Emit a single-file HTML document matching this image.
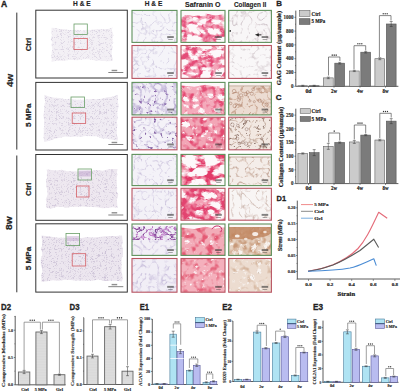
<!DOCTYPE html><html><head><meta charset="utf-8"><style>html,body{margin:0;padding:0;background:#fff;width:400px;height:392px;overflow:hidden}svg{display:block}</style></head><body>
<svg width="400" height="392" viewBox="0 0 400 392">
<rect x="0" y="0" width="400" height="392" fill="#fff"/>
<text x="0.9" y="6.6" style="font-family:'Liberation Sans',sans-serif;font-weight:bold;font-size:8.4px" text-anchor="start" fill="#222" stroke="#222" stroke-width="0.3" textLength="6.2" lengthAdjust="spacingAndGlyphs">A</text>
<text x="73.1" y="6.2" style="font-family:'Liberation Sans',sans-serif;font-weight:bold;font-size:6.4px" text-anchor="start" fill="#222" stroke="#222" stroke-width="0.12" textLength="17.5" lengthAdjust="spacingAndGlyphs">H &amp; E</text>
<text x="144.8" y="6.3" style="font-family:'Liberation Sans',sans-serif;font-weight:bold;font-size:6.4px" text-anchor="start" fill="#222" stroke="#222" stroke-width="0.12" textLength="17.5" lengthAdjust="spacingAndGlyphs">H &amp; E</text>
<text x="185.0" y="6.6" style="font-family:'Liberation Sans',sans-serif;font-weight:bold;font-size:7.0px" text-anchor="start" fill="#222" stroke="#222" stroke-width="0.12" textLength="35.6" lengthAdjust="spacingAndGlyphs">Safranin  O</text>
<text x="234.0" y="6.6" style="font-family:'Liberation Sans',sans-serif;font-weight:bold;font-size:7.0px" text-anchor="start" fill="#222" stroke="#222" stroke-width="0.12" textLength="32.2" lengthAdjust="spacingAndGlyphs">Collagen II</text>
<line x1="16.80" y1="12.60" x2="16.80" y2="149.60" stroke="#333" stroke-width="1.0"/>
<line x1="16.80" y1="155.50" x2="16.80" y2="292.30" stroke="#333" stroke-width="1.0"/>
<text x="0" y="0" style="font-family:'Liberation Sans',sans-serif;font-weight:bold;font-size:9.0px" text-anchor="middle" fill="#222" stroke="#222" stroke-width="0.22" transform="translate(12.75 80.4) rotate(-90)" textLength="13.2" lengthAdjust="spacingAndGlyphs">4w</text>
<text x="0" y="0" style="font-family:'Liberation Sans',sans-serif;font-weight:bold;font-size:9.0px" text-anchor="middle" fill="#222" stroke="#222" stroke-width="0.22" transform="translate(12.3 223.2) rotate(-90)" textLength="13.6" lengthAdjust="spacingAndGlyphs">8w</text>
<text x="0" y="0" style="font-family:'Liberation Sans',sans-serif;font-weight:bold;font-size:7.1px" text-anchor="middle" fill="#222" stroke="#222" stroke-width="0.22" transform="translate(31.4 44.6) rotate(-90)" textLength="13.3" lengthAdjust="spacingAndGlyphs">Ctrl</text>
<text x="0" y="0" style="font-family:'Liberation Sans',sans-serif;font-weight:bold;font-size:7.1px" text-anchor="middle" fill="#222" stroke="#222" stroke-width="0.22" transform="translate(31.2 115.3) rotate(-90)" textLength="23.4" lengthAdjust="spacingAndGlyphs">5 MPa</text>
<text x="0" y="0" style="font-family:'Liberation Sans',sans-serif;font-weight:bold;font-size:7.1px" text-anchor="middle" fill="#222" stroke="#222" stroke-width="0.22" transform="translate(31.4 189.3) rotate(-90)" textLength="13.3" lengthAdjust="spacingAndGlyphs">Ctrl</text>
<text x="0" y="0" style="font-family:'Liberation Sans',sans-serif;font-weight:bold;font-size:7.1px" text-anchor="middle" fill="#222" stroke="#222" stroke-width="0.22" transform="translate(31.2 258.5) rotate(-90)" textLength="23.4" lengthAdjust="spacingAndGlyphs">5 MPa</text>
<rect x="35.8" y="10.2" width="91.5" height="67.8" fill="#fff" stroke="#333" stroke-width="1.0"/>
<clipPath id="c1"><path d="M51.5 27.7 L55.9 28.0 L60.2 29.3 L64.6 28.9 L68.9 30.0 L73.3 30.0 L77.6 29.7 L82.0 30.5 L86.4 29.7 L90.7 30.1 L95.1 29.3 L99.4 28.9 L103.8 29.0 L108.1 29.1 L112.5 27.4 L111.9 30.4 L112.8 32.8 L113.4 35.2 L112.7 37.6 L112.3 40.0 L113.5 42.4 L111.6 44.8 L113.2 47.1 L112.1 49.5 L111.8 51.9 L111.7 54.3 L112.1 56.7 L113.1 59.1 L112.5 61.0 L108.1 61.3 L103.8 61.1 L99.4 60.4 L95.1 60.4 L90.7 59.4 L86.4 59.3 L82.0 59.5 L77.6 60.3 L73.3 60.0 L68.9 60.0 L64.6 60.7 L60.2 60.8 L55.9 60.8 L51.5 62.0 L51.9 59.1 L51.0 56.7 L51.6 54.3 L51.6 51.9 L52.3 49.5 L52.0 47.1 L51.1 44.8 L52.5 42.4 L50.7 40.0 L51.3 37.6 L52.0 35.2 L50.8 32.8 L51.5 30.4Z"/></clipPath>
<g clip-path="url(#c1)">
<rect x="49.5" y="26.0" width="65.0" height="37.5" fill="#f3f0f5"/>
<filter id="f1" x="49.5" y="26.0" width="65.0" height="37.5" filterUnits="userSpaceOnUse" color-interpolation-filters="sRGB"><feTurbulence type="turbulence" baseFrequency="0.42" numOctaves="2" seed="1" result="n1"/><feColorMatrix in="n1" type="matrix" values="0 0 0 0 0  0 0 0 0 0  0 0 0 0 0  -7 0 0 0 1.2" result="mask"/><feTurbulence type="fractalNoise" baseFrequency="0.1" numOctaves="2" seed="8" result="n2"/><feComponentTransfer in="n2" result="sv"><feFuncR type="linear" slope="3" intercept="-1"/><feFuncA type="linear" slope="0" intercept="1"/></feComponentTransfer><feColorMatrix in="sv" type="matrix" values="-0.094 0 0 0 0.690 -0.102 0 0 0 0.635 -0.063 0 0 0 0.753 0 0 0 0 0.3" result="col"/><feComposite in="col" in2="mask" operator="in"/></filter>
<rect x="49.5" y="26.0" width="65.0" height="37.5" fill="#000" filter="url(#f1)"/>
</g>
<rect x="74" y="24" width="13.299999999999997" height="10.399999999999999" fill="none" stroke="#6a9e68" stroke-width="0.8"/>
<rect x="74" y="38.4" width="13.299999999999997" height="11.100000000000001" fill="none" stroke="#d45f66" stroke-width="0.8"/>
<rect x="111.6" y="69.8" width="5.6" height="1.4" fill="#444" opacity="0.6"/>
<rect x="108.3" y="72.4" width="15" height="0.6" fill="#333"/>
<rect x="35.8" y="82.4" width="91.5" height="67.6" fill="#fff" stroke="#333" stroke-width="1.0"/>
<clipPath id="c2"><path d="M44.3 94.8 L49.5 96.7 L54.8 97.7 L60.0 98.1 L65.2 99.2 L70.5 98.8 L75.7 99.7 L80.9 99.7 L86.2 99.5 L91.4 99.0 L96.7 99.2 L101.9 98.7 L107.1 97.2 L112.4 96.7 L117.6 94.8 L118.0 98.8 L117.9 102.0 L118.6 105.3 L118.2 108.6 L117.2 111.9 L117.4 115.1 L117.9 118.4 L116.6 121.7 L117.5 124.9 L116.9 128.2 L116.8 131.5 L116.7 134.8 L118.1 138.0 L117.6 140.7 L112.4 139.7 L107.1 138.7 L101.9 138.5 L96.7 136.3 L91.4 136.3 L86.2 136.0 L80.9 136.4 L75.7 136.4 L70.5 136.9 L65.2 136.6 L60.0 137.7 L54.8 138.7 L49.5 140.7 L44.3 142.0 L43.6 138.0 L43.7 134.8 L43.8 131.5 L43.8 128.2 L44.3 124.9 L44.5 121.7 L43.8 118.4 L43.3 115.1 L44.1 111.9 L44.0 108.6 L44.4 105.3 L45.2 102.0 L44.7 98.8Z"/></clipPath>
<g clip-path="url(#c2)">
<rect x="42.3" y="93.5" width="77.3" height="49.80000000000001" fill="#f0ecf3"/>
<filter id="f2" x="42.3" y="93.5" width="77.3" height="49.80000000000001" filterUnits="userSpaceOnUse" color-interpolation-filters="sRGB"><feTurbulence type="turbulence" baseFrequency="0.42" numOctaves="2" seed="2" result="n1"/><feColorMatrix in="n1" type="matrix" values="0 0 0 0 0  0 0 0 0 0  0 0 0 0 0  -7 0 0 0 1.2" result="mask"/><feTurbulence type="fractalNoise" baseFrequency="0.1" numOctaves="2" seed="9" result="n2"/><feComponentTransfer in="n2" result="sv"><feFuncR type="linear" slope="3" intercept="-1"/><feFuncA type="linear" slope="0" intercept="1"/></feComponentTransfer><feColorMatrix in="sv" type="matrix" values="-0.094 0 0 0 0.690 -0.102 0 0 0 0.635 -0.063 0 0 0 0.753 0 0 0 0 0.35" result="col"/><feComposite in="col" in2="mask" operator="in"/></filter>
<rect x="42.3" y="93.5" width="77.3" height="49.80000000000001" fill="#000" filter="url(#f2)"/>
</g>
<rect x="71" y="97" width="13.5" height="10.599999999999994" fill="none" stroke="#6a9e68" stroke-width="0.8"/>
<rect x="72.2" y="113" width="13.5" height="10.400000000000006" fill="none" stroke="#d45f66" stroke-width="0.8"/>
<rect x="111.6" y="141.8" width="5.6" height="1.4" fill="#444" opacity="0.6"/>
<rect x="108.3" y="144.4" width="15" height="0.6" fill="#333"/>
<rect x="35.8" y="154.5" width="91.5" height="65.80000000000001" fill="#fff" stroke="#333" stroke-width="1.0"/>
<clipPath id="c3"><path d="M46.6 169.5 L51.7 170.0 L56.7 170.4 L61.8 169.7 L66.9 171.3 L72.0 171.3 L77.0 171.6 L82.1 171.5 L87.2 170.8 L92.2 170.7 L97.3 170.0 L102.4 170.7 L107.5 169.5 L112.5 169.1 L117.6 169.0 L116.9 172.2 L117.3 175.0 L116.7 177.8 L116.6 180.5 L116.9 183.2 L116.8 186.0 L117.3 188.8 L116.7 191.5 L118.3 194.2 L117.8 197.0 L116.9 199.8 L117.1 202.5 L117.3 205.2 L117.6 207.8 L112.5 207.2 L107.5 208.1 L102.4 208.2 L97.3 207.2 L92.2 207.1 L87.2 206.4 L82.1 206.4 L77.0 206.8 L72.0 206.7 L66.9 207.7 L61.8 206.8 L56.7 206.8 L51.7 208.5 L46.6 208.0 L45.9 205.2 L46.7 202.5 L45.7 199.8 L46.7 197.0 L47.6 194.2 L47.3 191.5 L47.0 188.8 L46.1 186.0 L46.3 183.2 L45.9 180.5 L47.1 177.8 L46.7 175.0 L47.2 172.2Z"/></clipPath>
<g clip-path="url(#c3)">
<rect x="44.6" y="167.5" width="75.0" height="42.5" fill="#eee8f0"/>
<filter id="f3" x="44.6" y="167.5" width="75.0" height="42.5" filterUnits="userSpaceOnUse" color-interpolation-filters="sRGB"><feTurbulence type="turbulence" baseFrequency="0.42" numOctaves="2" seed="3" result="n1"/><feColorMatrix in="n1" type="matrix" values="0 0 0 0 0  0 0 0 0 0  0 0 0 0 0  -7 0 0 0 1.2" result="mask"/><feTurbulence type="fractalNoise" baseFrequency="0.1" numOctaves="2" seed="10" result="n2"/><feComponentTransfer in="n2" result="sv"><feFuncR type="linear" slope="3" intercept="-1"/><feFuncA type="linear" slope="0" intercept="1"/></feComponentTransfer><feColorMatrix in="sv" type="matrix" values="-0.094 0 0 0 0.690 -0.102 0 0 0 0.635 -0.063 0 0 0 0.753 0 0 0 0 0.35" result="col"/><feComposite in="col" in2="mask" operator="in"/></filter>
<rect x="44.6" y="167.5" width="75.0" height="42.5" fill="#000" filter="url(#f3)"/>
</g>
<rect x="78.5" y="170.5" width="12.5" height="6" fill="#b898c8" opacity="0.45"/>
<rect x="78" y="169" width="13.5" height="11" fill="none" stroke="#6a9e68" stroke-width="0.8"/>
<rect x="76.4" y="186" width="12.599999999999994" height="11" fill="none" stroke="#d45f66" stroke-width="0.8"/>
<rect x="111.6" y="212.10000000000002" width="5.6" height="1.4" fill="#444" opacity="0.6"/>
<rect x="108.3" y="214.70000000000002" width="15" height="0.6" fill="#333"/>
<rect x="35.8" y="223.8" width="91.5" height="68.30000000000001" fill="#fff" stroke="#333" stroke-width="1.0"/>
<clipPath id="c4"><path d="M41.5 235.7 L47.2 235.9 L53.0 237.1 L58.8 237.7 L64.5 237.7 L70.2 237.8 L76.0 238.0 L81.8 237.9 L87.5 237.0 L93.2 237.4 L99.0 236.9 L104.8 236.2 L110.5 235.9 L116.2 236.0 L122.0 235.6 L122.4 239.2 L122.9 242.4 L121.9 245.6 L122.9 248.9 L123.0 252.1 L122.9 255.3 L121.7 258.5 L121.4 261.7 L121.5 264.9 L121.4 268.1 L121.4 271.4 L122.2 274.6 L122.8 277.8 L122.0 281.5 L116.2 280.7 L110.5 280.8 L104.8 280.9 L99.0 279.6 L93.2 280.4 L87.5 280.7 L81.8 280.5 L76.0 280.4 L70.2 280.1 L64.5 279.7 L58.8 280.8 L53.0 280.3 L47.2 281.3 L41.5 281.8 L41.3 277.8 L41.3 274.6 L42.4 271.4 L41.9 268.1 L40.8 264.9 L40.8 261.7 L40.8 258.5 L42.3 255.3 L42.1 252.1 L40.8 248.9 L42.2 245.6 L42.5 242.4 L41.8 239.2Z"/></clipPath>
<g clip-path="url(#c4)">
<rect x="39.5" y="234.0" width="84.5" height="49.0" fill="#ece6ef"/>
<filter id="f4" x="39.5" y="234.0" width="84.5" height="49.0" filterUnits="userSpaceOnUse" color-interpolation-filters="sRGB"><feTurbulence type="turbulence" baseFrequency="0.42" numOctaves="2" seed="4" result="n1"/><feColorMatrix in="n1" type="matrix" values="0 0 0 0 0  0 0 0 0 0  0 0 0 0 0  -7 0 0 0 1.2" result="mask"/><feTurbulence type="fractalNoise" baseFrequency="0.1" numOctaves="2" seed="11" result="n2"/><feComponentTransfer in="n2" result="sv"><feFuncR type="linear" slope="3" intercept="-1"/><feFuncA type="linear" slope="0" intercept="1"/></feComponentTransfer><feColorMatrix in="sv" type="matrix" values="-0.094 0 0 0 0.690 -0.102 0 0 0 0.635 -0.063 0 0 0 0.753 0 0 0 0 0.4" result="col"/><feComposite in="col" in2="mask" operator="in"/></filter>
<rect x="39.5" y="234.0" width="84.5" height="49.0" fill="#000" filter="url(#f4)"/>
</g>
<rect x="66.5" y="236" width="12.6" height="5" fill="#b898c8" opacity="0.4"/>
<rect x="66" y="233.5" width="13.599999999999994" height="12.099999999999994" fill="none" stroke="#6a9e68" stroke-width="0.8"/>
<rect x="72.2" y="253.7" width="13.5" height="12.300000000000011" fill="none" stroke="#d45f66" stroke-width="0.8"/>
<rect x="111.6" y="283.90000000000003" width="5.6" height="1.4" fill="#444" opacity="0.6"/>
<rect x="108.3" y="286.5" width="15" height="0.6" fill="#333"/>
<clipPath id="c5"><rect x="132.0" y="10.4" width="45.0" height="32.0"/></clipPath>
<g clip-path="url(#c5)">
<rect x="132.0" y="10.4" width="45.0" height="32.0" fill="#f6f5f9"/>
<filter id="f5" x="132.0" y="10.4" width="45.0" height="32.0" filterUnits="userSpaceOnUse" color-interpolation-filters="sRGB"><feTurbulence type="turbulence" baseFrequency="0.13" numOctaves="2" seed="11" result="n1"/><feColorMatrix in="n1" type="matrix" values="0 0 0 0 0  0 0 0 0 0  0 0 0 0 0  -6 0 0 0 1.1" result="mask"/><feTurbulence type="fractalNoise" baseFrequency="0.15" numOctaves="2" seed="111" result="n2"/><feComponentTransfer in="n2" result="sv"><feFuncR type="linear" slope="4" intercept="-1.5"/><feFuncA type="linear" slope="0" intercept="1"/></feComponentTransfer><feColorMatrix in="sv" type="matrix" values="-0.110 0 0 0 0.847 -0.125 0 0 0 0.824 -0.078 0 0 0 0.902 0 0 0 0 0.6" result="col"/><feComposite in="col" in2="mask" operator="in"/></filter>
<rect x="132.0" y="10.4" width="45.0" height="32.0" fill="#000" filter="url(#f5)"/>
<rect x="167.2" y="36.1" width="6.6" height="1.9" fill="#333" opacity="0.6"/>
<rect x="168.2" y="39.3" width="4.6" height="0.5" fill="#333" opacity="0.8"/>
</g>
<rect x="132.0" y="10.4" width="45.0" height="32.0" fill="none" stroke="#5f905c" stroke-width="1.1"/>
<clipPath id="c6"><rect x="181.0" y="10.4" width="44.0" height="32.0"/></clipPath>
<g clip-path="url(#c6)">
<rect x="181.0" y="10.4" width="44.0" height="32.0" fill="#fdf8fa"/>
<filter id="f6" x="181.0" y="10.4" width="44.0" height="32.0" filterUnits="userSpaceOnUse" color-interpolation-filters="sRGB"><feTurbulence type="turbulence" baseFrequency="0.07 0.11" numOctaves="3" seed="31" result="n1"/><feColorMatrix in="n1" type="matrix" values="0 0 0 0 0  0 0 0 0 0  0 0 0 0 0  -5 0 0 0 1.95" result="mask"/><feTurbulence type="fractalNoise" baseFrequency="0.15" numOctaves="2" seed="41" result="n2"/><feComponentTransfer in="n2" result="sv"><feFuncR type="linear" slope="4" intercept="-1.5"/><feFuncA type="linear" slope="0" intercept="1"/></feComponentTransfer><feColorMatrix in="sv" type="matrix" values="-0.063 0 0 0 0.957 -0.353 0 0 0 0.659 -0.259 0 0 0 0.737 0 0 0 0 1.0" result="col"/><feComposite in="col" in2="mask" operator="in"/></filter>
<rect x="181.0" y="10.4" width="44.0" height="32.0" fill="#000" filter="url(#f6)"/>
<path d="M181.0 10.4 H225.0 V13.9 L215.3 15.4 L205.2 13.4 L194.2 15.9 L181.0 14.4Z" fill="#fdf8fa"/>
<rect x="215.2" y="36.1" width="6.6" height="1.9" fill="#333" opacity="0.6"/>
<rect x="216.2" y="39.3" width="4.6" height="0.5" fill="#333" opacity="0.8"/>
</g>
<rect x="181.0" y="10.4" width="44.0" height="32.0" fill="none" stroke="#5f905c" stroke-width="1.1"/>
<clipPath id="c7"><rect x="228.7" y="10.4" width="42.7" height="32.0"/></clipPath>
<g clip-path="url(#c7)">
<rect x="228.7" y="10.4" width="42.7" height="32.0" fill="#f8f6f7"/>
<filter id="f7" x="228.7" y="10.4" width="42.7" height="32.0" filterUnits="userSpaceOnUse" color-interpolation-filters="sRGB"><feTurbulence type="turbulence" baseFrequency="0.12" numOctaves="2" seed="51" result="n1"/><feColorMatrix in="n1" type="matrix" values="0 0 0 0 0  0 0 0 0 0  0 0 0 0 0  -6 0 0 0 1.1" result="mask"/><feTurbulence type="fractalNoise" baseFrequency="0.15" numOctaves="2" seed="151" result="n2"/><feComponentTransfer in="n2" result="sv"><feFuncR type="linear" slope="4" intercept="-1.5"/><feFuncA type="linear" slope="0" intercept="1"/></feComponentTransfer><feColorMatrix in="sv" type="matrix" values="-0.145 0 0 0 0.867 -0.165 0 0 0 0.824 -0.149 0 0 0 0.839 0 0 0 0 0.6" result="col"/><feComposite in="col" in2="mask" operator="in"/></filter>
<rect x="228.7" y="10.4" width="42.7" height="32.0" fill="#000" filter="url(#f7)"/>
<path d="M254.89999999999998 34.8 l4 -1.6 l0 3.2Z" fill="#222"/><rect x="258.4" y="34.4" width="3" height="0.9" fill="#222"/><circle cx="230.2" cy="30.9" r="0.9" fill="#333"/>
<rect x="261.59999999999997" y="36.1" width="6.6" height="1.9" fill="#333" opacity="0.6"/>
<rect x="262.59999999999997" y="39.3" width="4.6" height="0.5" fill="#333" opacity="0.8"/>
</g>
<rect x="228.7" y="10.4" width="42.7" height="32.0" fill="none" stroke="#5f905c" stroke-width="1.1"/>
<clipPath id="c8"><rect x="132.0" y="45.5" width="45.0" height="32.900000000000006"/></clipPath>
<g clip-path="url(#c8)">
<rect x="132.0" y="45.5" width="45.0" height="32.900000000000006" fill="#f5f4f9"/>
<filter id="f8" x="132.0" y="45.5" width="45.0" height="32.900000000000006" filterUnits="userSpaceOnUse" color-interpolation-filters="sRGB"><feTurbulence type="turbulence" baseFrequency="0.13" numOctaves="2" seed="12" result="n1"/><feColorMatrix in="n1" type="matrix" values="0 0 0 0 0  0 0 0 0 0  0 0 0 0 0  -6 0 0 0 1.1" result="mask"/><feTurbulence type="fractalNoise" baseFrequency="0.15" numOctaves="2" seed="112" result="n2"/><feComponentTransfer in="n2" result="sv"><feFuncR type="linear" slope="4" intercept="-1.5"/><feFuncA type="linear" slope="0" intercept="1"/></feComponentTransfer><feColorMatrix in="sv" type="matrix" values="-0.110 0 0 0 0.847 -0.125 0 0 0 0.824 -0.078 0 0 0 0.902 0 0 0 0 0.6" result="col"/><feComposite in="col" in2="mask" operator="in"/></filter>
<rect x="132.0" y="45.5" width="45.0" height="32.900000000000006" fill="#000" filter="url(#f8)"/>
<rect x="167.2" y="72.10000000000001" width="6.6" height="1.9" fill="#333" opacity="0.6"/>
<rect x="168.2" y="75.30000000000001" width="4.6" height="0.5" fill="#333" opacity="0.8"/>
</g>
<rect x="132.0" y="45.5" width="45.0" height="32.900000000000006" fill="none" stroke="#b85462" stroke-width="1.1"/>
<clipPath id="c9"><rect x="181.0" y="45.5" width="44.0" height="32.900000000000006"/></clipPath>
<g clip-path="url(#c9)">
<rect x="181.0" y="45.5" width="44.0" height="32.900000000000006" fill="#fdf8fa"/>
<filter id="f9" x="181.0" y="45.5" width="44.0" height="32.900000000000006" filterUnits="userSpaceOnUse" color-interpolation-filters="sRGB"><feTurbulence type="turbulence" baseFrequency="0.08 0.12" numOctaves="3" seed="32" result="n1"/><feColorMatrix in="n1" type="matrix" values="0 0 0 0 0  0 0 0 0 0  0 0 0 0 0  -5 0 0 0 2.1" result="mask"/><feTurbulence type="fractalNoise" baseFrequency="0.15" numOctaves="2" seed="42" result="n2"/><feComponentTransfer in="n2" result="sv"><feFuncR type="linear" slope="4" intercept="-1.5"/><feFuncA type="linear" slope="0" intercept="1"/></feComponentTransfer><feColorMatrix in="sv" type="matrix" values="-0.063 0 0 0 0.957 -0.353 0 0 0 0.651 -0.259 0 0 0 0.729 0 0 0 0 1.0" result="col"/><feComposite in="col" in2="mask" operator="in"/></filter>
<rect x="181.0" y="45.5" width="44.0" height="32.900000000000006" fill="#000" filter="url(#f9)"/>
<rect x="215.2" y="72.10000000000001" width="6.6" height="1.9" fill="#333" opacity="0.6"/>
<rect x="216.2" y="75.30000000000001" width="4.6" height="0.5" fill="#333" opacity="0.8"/>
</g>
<rect x="181.0" y="45.5" width="44.0" height="32.900000000000006" fill="none" stroke="#b85462" stroke-width="1.1"/>
<clipPath id="c10"><rect x="228.7" y="45.5" width="42.7" height="32.900000000000006"/></clipPath>
<g clip-path="url(#c10)">
<rect x="228.7" y="45.5" width="42.7" height="32.900000000000006" fill="#f9f7f8"/>
<filter id="f10" x="228.7" y="45.5" width="42.7" height="32.900000000000006" filterUnits="userSpaceOnUse" color-interpolation-filters="sRGB"><feTurbulence type="turbulence" baseFrequency="0.12" numOctaves="2" seed="52" result="n1"/><feColorMatrix in="n1" type="matrix" values="0 0 0 0 0  0 0 0 0 0  0 0 0 0 0  -6 0 0 0 1.1" result="mask"/><feTurbulence type="fractalNoise" baseFrequency="0.15" numOctaves="2" seed="152" result="n2"/><feComponentTransfer in="n2" result="sv"><feFuncR type="linear" slope="4" intercept="-1.5"/><feFuncA type="linear" slope="0" intercept="1"/></feComponentTransfer><feColorMatrix in="sv" type="matrix" values="-0.141 0 0 0 0.878 -0.157 0 0 0 0.839 -0.149 0 0 0 0.855 0 0 0 0 0.55" result="col"/><feComposite in="col" in2="mask" operator="in"/></filter>
<rect x="228.7" y="45.5" width="42.7" height="32.900000000000006" fill="#000" filter="url(#f10)"/>
<rect x="261.59999999999997" y="72.10000000000001" width="6.6" height="1.9" fill="#333" opacity="0.6"/>
<rect x="262.59999999999997" y="75.30000000000001" width="4.6" height="0.5" fill="#333" opacity="0.8"/>
</g>
<rect x="228.7" y="45.5" width="42.7" height="32.900000000000006" fill="none" stroke="#b85462" stroke-width="1.1"/>
<clipPath id="c11"><rect x="132.0" y="82.4" width="45.0" height="32.5"/></clipPath>
<g clip-path="url(#c11)">
<rect x="132.0" y="82.4" width="45.0" height="32.5" fill="#f1eef6"/>
<filter id="f11" x="132.0" y="82.4" width="45.0" height="32.5" filterUnits="userSpaceOnUse" color-interpolation-filters="sRGB"><feTurbulence type="fractalNoise" baseFrequency="0.28" numOctaves="2" seed="23" result="n"/><feColorMatrix in="n" type="matrix" values="0 0 0 0 0  0 0 0 0 0  0 0 0 0 0  1 0 0 0 0" result="a"/><feComponentTransfer in="a" result="t"><feFuncA type="linear" slope="9" intercept="-5.8"/></feComponentTransfer><feFlood flood-color="#74489a" flood-opacity="0.8"/><feComposite in2="t" operator="in"/></filter>
<rect x="132.0" y="82.4" width="45.0" height="32.5" fill="#000" filter="url(#f11)"/>
<filter id="f12" x="132.0" y="82.4" width="45.0" height="32.5" filterUnits="userSpaceOnUse" color-interpolation-filters="sRGB"><feTurbulence type="turbulence" baseFrequency="0.12" numOctaves="2" seed="13" result="n1"/><feColorMatrix in="n1" type="matrix" values="0 0 0 0 0  0 0 0 0 0  0 0 0 0 0  -5 0 0 0 1.5" result="mask"/><feTurbulence type="fractalNoise" baseFrequency="0.15" numOctaves="2" seed="113" result="n2"/><feComponentTransfer in="n2" result="sv"><feFuncR type="linear" slope="4" intercept="-1.5"/><feFuncA type="linear" slope="0" intercept="1"/></feComponentTransfer><feColorMatrix in="sv" type="matrix" values="-0.153 0 0 0 0.812 -0.180 0 0 0 0.776 -0.102 0 0 0 0.886 0 0 0 0 0.7" result="col"/><feComposite in="col" in2="mask" operator="in"/></filter>
<rect x="132.0" y="82.4" width="45.0" height="32.5" fill="#000" filter="url(#f12)"/>
<rect x="167.2" y="108.60000000000001" width="6.6" height="1.9" fill="#333" opacity="0.6"/>
<rect x="168.2" y="111.80000000000001" width="4.6" height="0.5" fill="#333" opacity="0.8"/>
</g>
<rect x="132.0" y="82.4" width="45.0" height="32.5" fill="none" stroke="#5f905c" stroke-width="1.1"/>
<clipPath id="c12"><rect x="181.0" y="82.4" width="44.0" height="32.5"/></clipPath>
<g clip-path="url(#c12)">
<rect x="181.0" y="82.4" width="44.0" height="32.5" fill="#fdf8fa"/>
<filter id="f13" x="181.0" y="82.4" width="44.0" height="32.5" filterUnits="userSpaceOnUse" color-interpolation-filters="sRGB"><feTurbulence type="turbulence" baseFrequency="0.11 0.14" numOctaves="3" seed="33" result="n1"/><feColorMatrix in="n1" type="matrix" values="0 0 0 0 0  0 0 0 0 0  0 0 0 0 0  -5 0 0 0 2.5" result="mask"/><feTurbulence type="fractalNoise" baseFrequency="0.15" numOctaves="2" seed="43" result="n2"/><feComponentTransfer in="n2" result="sv"><feFuncR type="linear" slope="4" intercept="-1.82"/><feFuncA type="linear" slope="0" intercept="1"/></feComponentTransfer><feColorMatrix in="sv" type="matrix" values="-0.063 0 0 0 0.957 -0.369 0 0 0 0.667 -0.278 0 0 0 0.733 0 0 0 0 1.0" result="col"/><feComposite in="col" in2="mask" operator="in"/></filter>
<rect x="181.0" y="82.4" width="44.0" height="32.5" fill="#000" filter="url(#f13)"/>
<path d="M181.0 82.4 H225.0 V85.2 L215.3 86.4 L205.2 84.8 L194.2 86.8 L181.0 85.6Z" fill="#fdf8fa"/>
<rect x="215.2" y="108.60000000000001" width="6.6" height="1.9" fill="#333" opacity="0.6"/>
<rect x="216.2" y="111.80000000000001" width="4.6" height="0.5" fill="#333" opacity="0.8"/>
</g>
<rect x="181.0" y="82.4" width="44.0" height="32.5" fill="none" stroke="#5f905c" stroke-width="1.1"/>
<clipPath id="c13"><rect x="228.7" y="82.4" width="42.7" height="32.5"/></clipPath>
<g clip-path="url(#c13)">
<rect x="228.7" y="82.4" width="42.7" height="32.5" fill="#ecdcd2"/>
<filter id="f14" x="228.7" y="82.4" width="42.7" height="32.5" filterUnits="userSpaceOnUse" color-interpolation-filters="sRGB"><feTurbulence type="turbulence" baseFrequency="0.14" numOctaves="2" seed="53" result="n1"/><feColorMatrix in="n1" type="matrix" values="0 0 0 0 0  0 0 0 0 0  0 0 0 0 0  -6 0 0 0 1.34" result="mask"/><feTurbulence type="fractalNoise" baseFrequency="0.15" numOctaves="2" seed="153" result="n2"/><feComponentTransfer in="n2" result="sv"><feFuncR type="linear" slope="4" intercept="-1.5"/><feFuncA type="linear" slope="0" intercept="1"/></feComponentTransfer><feColorMatrix in="sv" type="matrix" values="-0.157 0 0 0 0.847 -0.220 0 0 0 0.722 -0.235 0 0 0 0.643 0 0 0 0 0.7" result="col"/><feComposite in="col" in2="mask" operator="in"/></filter>
<rect x="228.7" y="82.4" width="42.7" height="32.5" fill="#000" filter="url(#f14)"/>
<circle cx="239.6" cy="98.2" r="1.29" fill="none" stroke="#a0705a" stroke-width="0.55" opacity="0.8"/><circle cx="241.1" cy="95.3" r="1.60" fill="none" stroke="#a0705a" stroke-width="0.55" opacity="0.8"/><circle cx="266.4" cy="110.6" r="1.50" fill="none" stroke="#a0705a" stroke-width="0.55" opacity="0.8"/><circle cx="245.8" cy="94.1" r="1.79" fill="none" stroke="#a0705a" stroke-width="0.55" opacity="0.8"/><circle cx="266.7" cy="104.7" r="1.71" fill="none" stroke="#a0705a" stroke-width="0.55" opacity="0.8"/><circle cx="234.7" cy="106.0" r="1.75" fill="none" stroke="#a0705a" stroke-width="0.55" opacity="0.8"/><circle cx="230.7" cy="103.4" r="1.27" fill="none" stroke="#a0705a" stroke-width="0.55" opacity="0.8"/><circle cx="253.3" cy="89.2" r="1.53" fill="none" stroke="#a0705a" stroke-width="0.55" opacity="0.8"/><circle cx="238.8" cy="99.7" r="1.65" fill="none" stroke="#a0705a" stroke-width="0.55" opacity="0.8"/><circle cx="262.5" cy="101.9" r="1.03" fill="none" stroke="#a0705a" stroke-width="0.55" opacity="0.8"/><circle cx="254.3" cy="101.7" r="1.06" fill="none" stroke="#a0705a" stroke-width="0.55" opacity="0.8"/><circle cx="251.8" cy="93.7" r="1.62" fill="none" stroke="#a0705a" stroke-width="0.55" opacity="0.8"/><circle cx="249.9" cy="100.9" r="1.13" fill="none" stroke="#a0705a" stroke-width="0.55" opacity="0.8"/><circle cx="247.7" cy="92.2" r="1.45" fill="none" stroke="#a0705a" stroke-width="0.55" opacity="0.8"/><circle cx="234.1" cy="91.1" r="1.76" fill="none" stroke="#a0705a" stroke-width="0.55" opacity="0.8"/><circle cx="259.6" cy="100.6" r="1.71" fill="none" stroke="#a0705a" stroke-width="0.55" opacity="0.8"/>
<rect x="228.7" y="82.4" width="42.7" height="3.5" fill="#f8f2ee"/><line x1="228.7" y1="85.9" x2="271.4" y2="85.9" stroke="#9a7a68" stroke-width="0.5"/>
<rect x="261.59999999999997" y="108.60000000000001" width="6.6" height="1.9" fill="#333" opacity="0.6"/>
<rect x="262.59999999999997" y="111.80000000000001" width="4.6" height="0.5" fill="#333" opacity="0.8"/>
</g>
<rect x="228.7" y="82.4" width="42.7" height="32.5" fill="none" stroke="#5f905c" stroke-width="1.1"/>
<clipPath id="c14"><rect x="132.0" y="117.2" width="45.0" height="32.60000000000001"/></clipPath>
<g clip-path="url(#c14)">
<rect x="132.0" y="117.2" width="45.0" height="32.60000000000001" fill="#f4f2f8"/>
<filter id="f15" x="132.0" y="117.2" width="45.0" height="32.60000000000001" filterUnits="userSpaceOnUse" color-interpolation-filters="sRGB"><feTurbulence type="fractalNoise" baseFrequency="0.28" numOctaves="2" seed="24" result="n"/><feColorMatrix in="n" type="matrix" values="0 0 0 0 0  0 0 0 0 0  0 0 0 0 0  1 0 0 0 0" result="a"/><feComponentTransfer in="a" result="t"><feFuncA type="linear" slope="9" intercept="-5.89"/></feComponentTransfer><feFlood flood-color="#6a4290" flood-opacity="0.8"/><feComposite in2="t" operator="in"/></filter>
<rect x="132.0" y="117.2" width="45.0" height="32.60000000000001" fill="#000" filter="url(#f15)"/>
<filter id="f16" x="132.0" y="117.2" width="45.0" height="32.60000000000001" filterUnits="userSpaceOnUse" color-interpolation-filters="sRGB"><feTurbulence type="turbulence" baseFrequency="0.12" numOctaves="2" seed="14" result="n1"/><feColorMatrix in="n1" type="matrix" values="0 0 0 0 0  0 0 0 0 0  0 0 0 0 0  -5 0 0 0 1.2" result="mask"/><feTurbulence type="fractalNoise" baseFrequency="0.15" numOctaves="2" seed="114" result="n2"/><feComponentTransfer in="n2" result="sv"><feFuncR type="linear" slope="4" intercept="-1.5"/><feFuncA type="linear" slope="0" intercept="1"/></feComponentTransfer><feColorMatrix in="sv" type="matrix" values="-0.133 0 0 0 0.824 -0.157 0 0 0 0.792 -0.094 0 0 0 0.894 0 0 0 0 0.6" result="col"/><feComposite in="col" in2="mask" operator="in"/></filter>
<rect x="132.0" y="117.2" width="45.0" height="32.60000000000001" fill="#000" filter="url(#f16)"/>
<rect x="167.2" y="143.5" width="6.6" height="1.9" fill="#333" opacity="0.6"/>
<rect x="168.2" y="146.70000000000002" width="4.6" height="0.5" fill="#333" opacity="0.8"/>
</g>
<rect x="132.0" y="117.2" width="45.0" height="32.60000000000001" fill="none" stroke="#b85462" stroke-width="1.1"/>
<clipPath id="c15"><rect x="181.0" y="117.2" width="44.0" height="32.60000000000001"/></clipPath>
<g clip-path="url(#c15)">
<rect x="181.0" y="117.2" width="44.0" height="32.60000000000001" fill="#fdf8fa"/>
<filter id="f17" x="181.0" y="117.2" width="44.0" height="32.60000000000001" filterUnits="userSpaceOnUse" color-interpolation-filters="sRGB"><feTurbulence type="turbulence" baseFrequency="0.11 0.14" numOctaves="3" seed="34" result="n1"/><feColorMatrix in="n1" type="matrix" values="0 0 0 0 0  0 0 0 0 0  0 0 0 0 0  -5 0 0 0 3.0" result="mask"/><feTurbulence type="fractalNoise" baseFrequency="0.15" numOctaves="2" seed="44" result="n2"/><feComponentTransfer in="n2" result="sv"><feFuncR type="linear" slope="4" intercept="-1.74"/><feFuncA type="linear" slope="0" intercept="1"/></feComponentTransfer><feColorMatrix in="sv" type="matrix" values="-0.055 0 0 0 0.949 -0.361 0 0 0 0.651 -0.267 0 0 0 0.714 0 0 0 0 1.0" result="col"/><feComposite in="col" in2="mask" operator="in"/></filter>
<rect x="181.0" y="117.2" width="44.0" height="32.60000000000001" fill="#000" filter="url(#f17)"/>
<rect x="215.2" y="143.5" width="6.6" height="1.9" fill="#333" opacity="0.6"/>
<rect x="216.2" y="146.70000000000002" width="4.6" height="0.5" fill="#333" opacity="0.8"/>
</g>
<rect x="181.0" y="117.2" width="44.0" height="32.60000000000001" fill="none" stroke="#b85462" stroke-width="1.1"/>
<clipPath id="c16"><rect x="228.7" y="117.2" width="42.7" height="32.60000000000001"/></clipPath>
<g clip-path="url(#c16)">
<rect x="228.7" y="117.2" width="42.7" height="32.60000000000001" fill="#f2e8e2"/>
<filter id="f18" x="228.7" y="117.2" width="42.7" height="32.60000000000001" filterUnits="userSpaceOnUse" color-interpolation-filters="sRGB"><feTurbulence type="fractalNoise" baseFrequency="0.35" numOctaves="2" seed="64" result="n"/><feColorMatrix in="n" type="matrix" values="0 0 0 0 0  0 0 0 0 0  0 0 0 0 0  1 0 0 0 0" result="a"/><feComponentTransfer in="a" result="t"><feFuncA type="linear" slope="9" intercept="-5.98"/></feComponentTransfer><feFlood flood-color="#5a3a30" flood-opacity="0.6"/><feComposite in2="t" operator="in"/></filter>
<rect x="228.7" y="117.2" width="42.7" height="32.60000000000001" fill="#000" filter="url(#f18)"/>
<filter id="f19" x="228.7" y="117.2" width="42.7" height="32.60000000000001" filterUnits="userSpaceOnUse" color-interpolation-filters="sRGB"><feTurbulence type="turbulence" baseFrequency="0.14" numOctaves="2" seed="54" result="n1"/><feColorMatrix in="n1" type="matrix" values="0 0 0 0 0  0 0 0 0 0  0 0 0 0 0  -6 0 0 0 1.22" result="mask"/><feTurbulence type="fractalNoise" baseFrequency="0.15" numOctaves="2" seed="154" result="n2"/><feComponentTransfer in="n2" result="sv"><feFuncR type="linear" slope="4" intercept="-1.5"/><feFuncA type="linear" slope="0" intercept="1"/></feComponentTransfer><feColorMatrix in="sv" type="matrix" values="-0.282 0 0 0 0.784 -0.290 0 0 0 0.667 -0.282 0 0 0 0.596 0 0 0 0 0.65" result="col"/><feComposite in="col" in2="mask" operator="in"/></filter>
<rect x="228.7" y="117.2" width="42.7" height="32.60000000000001" fill="#000" filter="url(#f19)"/>
<circle cx="232.3" cy="124.6" r="1.74" fill="none" stroke="#8a6a60" stroke-width="0.55" opacity="0.8"/><circle cx="262.8" cy="145.1" r="1.67" fill="none" stroke="#8a6a60" stroke-width="0.55" opacity="0.8"/><circle cx="246.6" cy="129.2" r="1.50" fill="none" stroke="#8a6a60" stroke-width="0.55" opacity="0.8"/><circle cx="237.3" cy="138.6" r="1.50" fill="none" stroke="#8a6a60" stroke-width="0.55" opacity="0.8"/><circle cx="261.8" cy="138.8" r="1.18" fill="none" stroke="#8a6a60" stroke-width="0.55" opacity="0.8"/><circle cx="246.0" cy="143.6" r="1.75" fill="none" stroke="#8a6a60" stroke-width="0.55" opacity="0.8"/><circle cx="239.4" cy="143.4" r="1.35" fill="none" stroke="#8a6a60" stroke-width="0.55" opacity="0.8"/><circle cx="245.5" cy="122.0" r="1.08" fill="none" stroke="#8a6a60" stroke-width="0.55" opacity="0.8"/><circle cx="242.8" cy="142.2" r="1.42" fill="none" stroke="#8a6a60" stroke-width="0.55" opacity="0.8"/><circle cx="237.9" cy="125.6" r="1.41" fill="none" stroke="#8a6a60" stroke-width="0.55" opacity="0.8"/>
<rect x="261.59999999999997" y="143.5" width="6.6" height="1.9" fill="#333" opacity="0.6"/>
<rect x="262.59999999999997" y="146.70000000000002" width="4.6" height="0.5" fill="#333" opacity="0.8"/>
</g>
<rect x="228.7" y="117.2" width="42.7" height="32.60000000000001" fill="none" stroke="#b85462" stroke-width="1.1"/>
<clipPath id="c17"><rect x="132.0" y="154.4" width="45.0" height="31.19999999999999"/></clipPath>
<g clip-path="url(#c17)">
<rect x="132.0" y="154.4" width="45.0" height="31.19999999999999" fill="#f4f2f8"/>
<filter id="f20" x="132.0" y="154.4" width="45.0" height="31.19999999999999" filterUnits="userSpaceOnUse" color-interpolation-filters="sRGB"><feTurbulence type="turbulence" baseFrequency="0.13" numOctaves="2" seed="15" result="n1"/><feColorMatrix in="n1" type="matrix" values="0 0 0 0 0  0 0 0 0 0  0 0 0 0 0  -6 0 0 0 1.1" result="mask"/><feTurbulence type="fractalNoise" baseFrequency="0.15" numOctaves="2" seed="115" result="n2"/><feComponentTransfer in="n2" result="sv"><feFuncR type="linear" slope="4" intercept="-1.5"/><feFuncA type="linear" slope="0" intercept="1"/></feComponentTransfer><feColorMatrix in="sv" type="matrix" values="-0.125 0 0 0 0.831 -0.141 0 0 0 0.800 -0.094 0 0 0 0.894 0 0 0 0 0.6" result="col"/><feComposite in="col" in2="mask" operator="in"/></filter>
<rect x="132.0" y="154.4" width="45.0" height="31.19999999999999" fill="#000" filter="url(#f20)"/>
<rect x="167.2" y="179.29999999999998" width="6.6" height="1.9" fill="#333" opacity="0.6"/>
<rect x="168.2" y="182.5" width="4.6" height="0.5" fill="#333" opacity="0.8"/>
</g>
<rect x="132.0" y="154.4" width="45.0" height="31.19999999999999" fill="none" stroke="#5f905c" stroke-width="1.1"/>
<clipPath id="c18"><rect x="181.0" y="154.4" width="44.0" height="31.19999999999999"/></clipPath>
<g clip-path="url(#c18)">
<rect x="181.0" y="154.4" width="44.0" height="31.19999999999999" fill="#fdf8fa"/>
<filter id="f21" x="181.0" y="154.4" width="44.0" height="31.19999999999999" filterUnits="userSpaceOnUse" color-interpolation-filters="sRGB"><feTurbulence type="turbulence" baseFrequency="0.055 0.09" numOctaves="3" seed="35" result="n1"/><feColorMatrix in="n1" type="matrix" values="0 0 0 0 0  0 0 0 0 0  0 0 0 0 0  -5 0 0 0 2.0" result="mask"/><feTurbulence type="fractalNoise" baseFrequency="0.15" numOctaves="2" seed="45" result="n2"/><feComponentTransfer in="n2" result="sv"><feFuncR type="linear" slope="4" intercept="-1.3"/><feFuncA type="linear" slope="0" intercept="1"/></feComponentTransfer><feColorMatrix in="sv" type="matrix" values="-0.063 0 0 0 0.949 -0.384 0 0 0 0.612 -0.282 0 0 0 0.690 0 0 0 0 1.0" result="col"/><feComposite in="col" in2="mask" operator="in"/></filter>
<rect x="181.0" y="154.4" width="44.0" height="31.19999999999999" fill="#000" filter="url(#f21)"/>
<rect x="215.2" y="179.29999999999998" width="6.6" height="1.9" fill="#333" opacity="0.6"/>
<rect x="216.2" y="182.5" width="4.6" height="0.5" fill="#333" opacity="0.8"/>
</g>
<rect x="181.0" y="154.4" width="44.0" height="31.19999999999999" fill="none" stroke="#5f905c" stroke-width="1.1"/>
<clipPath id="c19"><rect x="228.7" y="154.4" width="42.7" height="31.19999999999999"/></clipPath>
<g clip-path="url(#c19)">
<rect x="228.7" y="154.4" width="42.7" height="31.19999999999999" fill="#f4ede9"/>
<filter id="f22" x="228.7" y="154.4" width="42.7" height="31.19999999999999" filterUnits="userSpaceOnUse" color-interpolation-filters="sRGB"><feTurbulence type="turbulence" baseFrequency="0.13" numOctaves="2" seed="55" result="n1"/><feColorMatrix in="n1" type="matrix" values="0 0 0 0 0  0 0 0 0 0  0 0 0 0 0  -6 0 0 0 1.22" result="mask"/><feTurbulence type="fractalNoise" baseFrequency="0.15" numOctaves="2" seed="155" result="n2"/><feComponentTransfer in="n2" result="sv"><feFuncR type="linear" slope="4" intercept="-1.5"/><feFuncA type="linear" slope="0" intercept="1"/></feComponentTransfer><feColorMatrix in="sv" type="matrix" values="-0.157 0 0 0 0.847 -0.212 0 0 0 0.753 -0.227 0 0 0 0.698 0 0 0 0 0.65" result="col"/><feComposite in="col" in2="mask" operator="in"/></filter>
<rect x="228.7" y="154.4" width="42.7" height="31.19999999999999" fill="#000" filter="url(#f22)"/>
<rect x="228.7" y="154.4" width="42.7" height="2.5" fill="#faf7f5"/><line x1="228.7" y1="157.0" x2="271.4" y2="157.0" stroke="#a88070" stroke-width="0.6"/>
<rect x="261.59999999999997" y="179.29999999999998" width="6.6" height="1.9" fill="#333" opacity="0.6"/>
<rect x="262.59999999999997" y="182.5" width="4.6" height="0.5" fill="#333" opacity="0.8"/>
</g>
<rect x="228.7" y="154.4" width="42.7" height="31.19999999999999" fill="none" stroke="#5f905c" stroke-width="1.1"/>
<clipPath id="c20"><rect x="132.0" y="188.3" width="45.0" height="31.899999999999977"/></clipPath>
<g clip-path="url(#c20)">
<rect x="132.0" y="188.3" width="45.0" height="31.899999999999977" fill="#f3f1f7"/>
<filter id="f23" x="132.0" y="188.3" width="45.0" height="31.899999999999977" filterUnits="userSpaceOnUse" color-interpolation-filters="sRGB"><feTurbulence type="turbulence" baseFrequency="0.13" numOctaves="2" seed="16" result="n1"/><feColorMatrix in="n1" type="matrix" values="0 0 0 0 0  0 0 0 0 0  0 0 0 0 0  -6 0 0 0 1.1" result="mask"/><feTurbulence type="fractalNoise" baseFrequency="0.15" numOctaves="2" seed="116" result="n2"/><feComponentTransfer in="n2" result="sv"><feFuncR type="linear" slope="4" intercept="-1.5"/><feFuncA type="linear" slope="0" intercept="1"/></feComponentTransfer><feColorMatrix in="sv" type="matrix" values="-0.125 0 0 0 0.831 -0.141 0 0 0 0.800 -0.094 0 0 0 0.894 0 0 0 0 0.6" result="col"/><feComposite in="col" in2="mask" operator="in"/></filter>
<rect x="132.0" y="188.3" width="45.0" height="31.899999999999977" fill="#000" filter="url(#f23)"/>
<rect x="167.2" y="213.89999999999998" width="6.6" height="1.9" fill="#333" opacity="0.6"/>
<rect x="168.2" y="217.1" width="4.6" height="0.5" fill="#333" opacity="0.8"/>
</g>
<rect x="132.0" y="188.3" width="45.0" height="31.899999999999977" fill="none" stroke="#b85462" stroke-width="1.1"/>
<clipPath id="c21"><rect x="181.0" y="188.3" width="44.0" height="31.899999999999977"/></clipPath>
<g clip-path="url(#c21)">
<rect x="181.0" y="188.3" width="44.0" height="31.899999999999977" fill="#fdf8fa"/>
<filter id="f24" x="181.0" y="188.3" width="44.0" height="31.899999999999977" filterUnits="userSpaceOnUse" color-interpolation-filters="sRGB"><feTurbulence type="turbulence" baseFrequency="0.07 0.11" numOctaves="3" seed="36" result="n1"/><feColorMatrix in="n1" type="matrix" values="0 0 0 0 0  0 0 0 0 0  0 0 0 0 0  -5 0 0 0 2.25" result="mask"/><feTurbulence type="fractalNoise" baseFrequency="0.15" numOctaves="2" seed="46" result="n2"/><feComponentTransfer in="n2" result="sv"><feFuncR type="linear" slope="4" intercept="-1.3"/><feFuncA type="linear" slope="0" intercept="1"/></feComponentTransfer><feColorMatrix in="sv" type="matrix" values="-0.071 0 0 0 0.957 -0.369 0 0 0 0.635 -0.275 0 0 0 0.714 0 0 0 0 1.0" result="col"/><feComposite in="col" in2="mask" operator="in"/></filter>
<rect x="181.0" y="188.3" width="44.0" height="31.899999999999977" fill="#000" filter="url(#f24)"/>
<rect x="215.2" y="213.89999999999998" width="6.6" height="1.9" fill="#333" opacity="0.6"/>
<rect x="216.2" y="217.1" width="4.6" height="0.5" fill="#333" opacity="0.8"/>
</g>
<rect x="181.0" y="188.3" width="44.0" height="31.899999999999977" fill="none" stroke="#b85462" stroke-width="1.1"/>
<clipPath id="c22"><rect x="228.7" y="188.3" width="42.7" height="31.899999999999977"/></clipPath>
<g clip-path="url(#c22)">
<rect x="228.7" y="188.3" width="42.7" height="31.899999999999977" fill="#f8f5f4"/>
<filter id="f25" x="228.7" y="188.3" width="42.7" height="31.899999999999977" filterUnits="userSpaceOnUse" color-interpolation-filters="sRGB"><feTurbulence type="turbulence" baseFrequency="0.12" numOctaves="2" seed="56" result="n1"/><feColorMatrix in="n1" type="matrix" values="0 0 0 0 0  0 0 0 0 0  0 0 0 0 0  -6 0 0 0 1.1" result="mask"/><feTurbulence type="fractalNoise" baseFrequency="0.15" numOctaves="2" seed="156" result="n2"/><feComponentTransfer in="n2" result="sv"><feFuncR type="linear" slope="4" intercept="-1.5"/><feFuncA type="linear" slope="0" intercept="1"/></feComponentTransfer><feColorMatrix in="sv" type="matrix" values="-0.141 0 0 0 0.863 -0.180 0 0 0 0.792 -0.204 0 0 0 0.769 0 0 0 0 0.6" result="col"/><feComposite in="col" in2="mask" operator="in"/></filter>
<rect x="228.7" y="188.3" width="42.7" height="31.899999999999977" fill="#000" filter="url(#f25)"/>
<rect x="261.59999999999997" y="213.89999999999998" width="6.6" height="1.9" fill="#333" opacity="0.6"/>
<rect x="262.59999999999997" y="217.1" width="4.6" height="0.5" fill="#333" opacity="0.8"/>
</g>
<rect x="228.7" y="188.3" width="42.7" height="31.899999999999977" fill="none" stroke="#b85462" stroke-width="1.1"/>
<clipPath id="c23"><rect x="132.0" y="224.0" width="45.0" height="31.400000000000006"/></clipPath>
<g clip-path="url(#c23)">
<rect x="132.0" y="224.0" width="45.0" height="31.400000000000006" fill="#f2eff6"/>
<filter id="f26" x="132.0" y="224.0" width="45.0" height="31.400000000000006" filterUnits="userSpaceOnUse" color-interpolation-filters="sRGB"><feTurbulence type="turbulence" baseFrequency="0.12" numOctaves="2" seed="17" result="n1"/><feColorMatrix in="n1" type="matrix" values="0 0 0 0 0  0 0 0 0 0  0 0 0 0 0  -5 0 0 0 1.1" result="mask"/><feTurbulence type="fractalNoise" baseFrequency="0.15" numOctaves="2" seed="117" result="n2"/><feComponentTransfer in="n2" result="sv"><feFuncR type="linear" slope="4" intercept="-1.5"/><feFuncA type="linear" slope="0" intercept="1"/></feComponentTransfer><feColorMatrix in="sv" type="matrix" values="-0.157 0 0 0 0.816 -0.180 0 0 0 0.776 -0.102 0 0 0 0.886 0 0 0 0 0.5" result="col"/><feComposite in="col" in2="mask" operator="in"/></filter>
<rect x="132.0" y="224.0" width="45.0" height="31.400000000000006" fill="#000" filter="url(#f26)"/>
<filter id="f27" x="132.0" y="224.0" width="45.0" height="15.700000000000003" filterUnits="userSpaceOnUse" color-interpolation-filters="sRGB"><feTurbulence type="turbulence" baseFrequency="0.16 0.2" numOctaves="3" seed="77" result="n1"/><feColorMatrix in="n1" type="matrix" values="0 0 0 0 0  0 0 0 0 0  0 0 0 0 0  -6 0 0 0 1.7" result="mask"/><feTurbulence type="fractalNoise" baseFrequency="0.15" numOctaves="2" seed="177" result="n2"/><feComponentTransfer in="n2" result="sv"><feFuncR type="linear" slope="4" intercept="-1.5"/><feFuncA type="linear" slope="0" intercept="1"/></feComponentTransfer><feColorMatrix in="sv" type="matrix" values="-0.275 0 0 0 0.753 -0.259 0 0 0 0.478 -0.220 0 0 0 0.784 0 0 0 0 0.9" result="col"/><feComposite in="col" in2="mask" operator="in"/></filter>
<rect x="132.0" y="224.0" width="45.0" height="15.700000000000003" fill="#000" filter="url(#f27)"/>
<rect x="132.0" y="224.0" width="45.0" height="2.2" fill="#fbfafc"/>
<rect x="167.2" y="249.1" width="6.6" height="1.9" fill="#333" opacity="0.6"/>
<rect x="168.2" y="252.3" width="4.6" height="0.5" fill="#333" opacity="0.8"/>
</g>
<rect x="132.0" y="224.0" width="45.0" height="31.400000000000006" fill="none" stroke="#5f905c" stroke-width="1.1"/>
<clipPath id="c24"><rect x="181.0" y="224.0" width="44.0" height="31.400000000000006"/></clipPath>
<g clip-path="url(#c24)">
<rect x="181.0" y="224.0" width="44.0" height="31.400000000000006" fill="#fdf8fa"/>
<filter id="f28" x="181.0" y="224.0" width="44.0" height="31.400000000000006" filterUnits="userSpaceOnUse" color-interpolation-filters="sRGB"><feTurbulence type="turbulence" baseFrequency="0.13 0.15" numOctaves="3" seed="37" result="n1"/><feColorMatrix in="n1" type="matrix" values="0 0 0 0 0  0 0 0 0 0  0 0 0 0 0  -5 0 0 0 3.6" result="mask"/><feTurbulence type="fractalNoise" baseFrequency="0.15" numOctaves="2" seed="47" result="n2"/><feComponentTransfer in="n2" result="sv"><feFuncR type="linear" slope="4" intercept="-1.9"/><feFuncA type="linear" slope="0" intercept="1"/></feComponentTransfer><feColorMatrix in="sv" type="matrix" values="-0.055 0 0 0 0.949 -0.322 0 0 0 0.675 -0.267 0 0 0 0.722 0 0 0 0 1.0" result="col"/><feComposite in="col" in2="mask" operator="in"/></filter>
<rect x="181.0" y="224.0" width="44.0" height="31.400000000000006" fill="#000" filter="url(#f28)"/>
<path d="M181.0 224.0 H225.0 V227.2 L215.3 228.5 L205.2 226.7 L194.2 228.9 L181.0 227.6Z" fill="#fdf8fa"/>
<path d="M211.8 229.0 q4 -5 9 -2 q2 2 0 5" stroke="#c8306a" stroke-width="1" fill="none"/>
<rect x="215.2" y="249.1" width="6.6" height="1.9" fill="#333" opacity="0.6"/>
<rect x="216.2" y="252.3" width="4.6" height="0.5" fill="#333" opacity="0.8"/>
</g>
<rect x="181.0" y="224.0" width="44.0" height="31.400000000000006" fill="none" stroke="#5f905c" stroke-width="1.1"/>
<clipPath id="c25"><rect x="228.7" y="224.0" width="42.7" height="31.400000000000006"/></clipPath>
<g clip-path="url(#c25)">
<rect x="228.7" y="224.0" width="42.7" height="31.400000000000006" fill="#f8f2ee"/>
<filter id="f29" x="228.7" y="224.0" width="42.7" height="31.400000000000006" filterUnits="userSpaceOnUse" color-interpolation-filters="sRGB"><feTurbulence type="turbulence" baseFrequency="0.14" numOctaves="3" seed="57" result="n1"/><feColorMatrix in="n1" type="matrix" values="0 0 0 0 0  0 0 0 0 0  0 0 0 0 0  -5 0 0 0 2.75" result="mask"/><feTurbulence type="fractalNoise" baseFrequency="0.15" numOctaves="2" seed="157" result="n2"/><feComponentTransfer in="n2" result="sv"><feFuncR type="linear" slope="4" intercept="-1.7"/><feFuncA type="linear" slope="0" intercept="1"/></feComponentTransfer><feColorMatrix in="sv" type="matrix" values="-0.118 0 0 0 0.902 -0.220 0 0 0 0.824 -0.282 0 0 0 0.761 0 0 0 0 1.0" result="col"/><feComposite in="col" in2="mask" operator="in"/></filter>
<rect x="228.7" y="224.0" width="42.7" height="31.400000000000006" fill="#000" filter="url(#f29)"/>
<path d="M228.7 227.0 H271.4 V233.0 C264.995 239.0 258.59 236.0 252.185 240.0 C243.64499999999998 237.0 237.23999999999998 241.0 228.7 238.0Z" fill="#bf835c" opacity="0.8"/>
<ellipse cx="255.17399999999998" cy="234.0" rx="3" ry="2" fill="#f6ece6"/><ellipse cx="237.23999999999998" cy="236.0" rx="2.5" ry="1.6" fill="#f6ece6"/><ellipse cx="245.78" cy="239.0" rx="1.8" ry="1.3" fill="#efe0d6"/><ellipse cx="264.995" cy="232.0" rx="1.8" ry="1.3" fill="#efe0d6"/>
<rect x="228.7" y="224.0" width="42.7" height="3" fill="#faf6f4"/>
<rect x="261.59999999999997" y="249.1" width="6.6" height="1.9" fill="#333" opacity="0.6"/>
<rect x="262.59999999999997" y="252.3" width="4.6" height="0.5" fill="#333" opacity="0.8"/>
</g>
<rect x="228.7" y="224.0" width="42.7" height="31.400000000000006" fill="none" stroke="#5f905c" stroke-width="1.1"/>
<clipPath id="c26"><rect x="132.0" y="258.5" width="45.0" height="33.69999999999999"/></clipPath>
<g clip-path="url(#c26)">
<rect x="132.0" y="258.5" width="45.0" height="33.69999999999999" fill="#f1eef6"/>
<filter id="f30" x="132.0" y="258.5" width="45.0" height="33.69999999999999" filterUnits="userSpaceOnUse" color-interpolation-filters="sRGB"><feTurbulence type="turbulence" baseFrequency="0.12" numOctaves="2" seed="18" result="n1"/><feColorMatrix in="n1" type="matrix" values="0 0 0 0 0  0 0 0 0 0  0 0 0 0 0  -5 0 0 0 1.1" result="mask"/><feTurbulence type="fractalNoise" baseFrequency="0.15" numOctaves="2" seed="118" result="n2"/><feComponentTransfer in="n2" result="sv"><feFuncR type="linear" slope="4" intercept="-1.5"/><feFuncA type="linear" slope="0" intercept="1"/></feComponentTransfer><feColorMatrix in="sv" type="matrix" values="-0.149 0 0 0 0.816 -0.165 0 0 0 0.776 -0.102 0 0 0 0.886 0 0 0 0 0.55" result="col"/><feComposite in="col" in2="mask" operator="in"/></filter>
<rect x="132.0" y="258.5" width="45.0" height="33.69999999999999" fill="#000" filter="url(#f30)"/>
<rect x="167.2" y="285.9" width="6.6" height="1.9" fill="#333" opacity="0.6"/>
<rect x="168.2" y="289.09999999999997" width="4.6" height="0.5" fill="#333" opacity="0.8"/>
</g>
<rect x="132.0" y="258.5" width="45.0" height="33.69999999999999" fill="none" stroke="#b85462" stroke-width="1.1"/>
<clipPath id="c27"><rect x="181.0" y="258.5" width="44.0" height="33.69999999999999"/></clipPath>
<g clip-path="url(#c27)">
<rect x="181.0" y="258.5" width="44.0" height="33.69999999999999" fill="#fdf8fa"/>
<filter id="f31" x="181.0" y="258.5" width="44.0" height="33.69999999999999" filterUnits="userSpaceOnUse" color-interpolation-filters="sRGB"><feTurbulence type="turbulence" baseFrequency="0.14 0.16" numOctaves="3" seed="38" result="n1"/><feColorMatrix in="n1" type="matrix" values="0 0 0 0 0  0 0 0 0 0  0 0 0 0 0  -5 0 0 0 3.5" result="mask"/><feTurbulence type="fractalNoise" baseFrequency="0.15" numOctaves="2" seed="48" result="n2"/><feComponentTransfer in="n2" result="sv"><feFuncR type="linear" slope="4" intercept="-1.9"/><feFuncA type="linear" slope="0" intercept="1"/></feComponentTransfer><feColorMatrix in="sv" type="matrix" values="-0.063 0 0 0 0.957 -0.306 0 0 0 0.690 -0.259 0 0 0 0.737 0 0 0 0 1.0" result="col"/><feComposite in="col" in2="mask" operator="in"/></filter>
<rect x="181.0" y="258.5" width="44.0" height="33.69999999999999" fill="#000" filter="url(#f31)"/>
<rect x="215.2" y="285.9" width="6.6" height="1.9" fill="#333" opacity="0.6"/>
<rect x="216.2" y="289.09999999999997" width="4.6" height="0.5" fill="#333" opacity="0.8"/>
</g>
<rect x="181.0" y="258.5" width="44.0" height="33.69999999999999" fill="none" stroke="#b85462" stroke-width="1.1"/>
<clipPath id="c28"><rect x="228.7" y="258.5" width="42.7" height="33.69999999999999"/></clipPath>
<g clip-path="url(#c28)">
<rect x="228.7" y="258.5" width="42.7" height="33.69999999999999" fill="#f8f3f0"/>
<filter id="f32" x="228.7" y="258.5" width="42.7" height="33.69999999999999" filterUnits="userSpaceOnUse" color-interpolation-filters="sRGB"><feTurbulence type="fractalNoise" baseFrequency="0.4" numOctaves="2" seed="68" result="n"/><feColorMatrix in="n" type="matrix" values="0 0 0 0 0  0 0 0 0 0  0 0 0 0 0  1 0 0 0 0" result="a"/><feComponentTransfer in="a" result="t"><feFuncA type="linear" slope="9" intercept="-5.98"/></feComponentTransfer><feFlood flood-color="#8a6a50" flood-opacity="0.35"/><feComposite in2="t" operator="in"/></filter>
<rect x="228.7" y="258.5" width="42.7" height="33.69999999999999" fill="#000" filter="url(#f32)"/>
<filter id="f33" x="228.7" y="258.5" width="42.7" height="33.69999999999999" filterUnits="userSpaceOnUse" color-interpolation-filters="sRGB"><feTurbulence type="turbulence" baseFrequency="0.16" numOctaves="3" seed="58" result="n1"/><feColorMatrix in="n1" type="matrix" values="0 0 0 0 0  0 0 0 0 0  0 0 0 0 0  -5 0 0 0 3.25" result="mask"/><feTurbulence type="fractalNoise" baseFrequency="0.15" numOctaves="2" seed="158" result="n2"/><feComponentTransfer in="n2" result="sv"><feFuncR type="linear" slope="4" intercept="-2.22"/><feFuncA type="linear" slope="0" intercept="1"/></feComponentTransfer><feColorMatrix in="sv" type="matrix" values="-0.094 0 0 0 0.925 -0.157 0 0 0 0.863 -0.204 0 0 0 0.816 0 0 0 0 1.0" result="col"/><feComposite in="col" in2="mask" operator="in"/></filter>
<rect x="228.7" y="258.5" width="42.7" height="33.69999999999999" fill="#000" filter="url(#f33)"/>
<rect x="261.59999999999997" y="285.9" width="6.6" height="1.9" fill="#333" opacity="0.6"/>
<rect x="262.59999999999997" y="289.09999999999997" width="4.6" height="0.5" fill="#333" opacity="0.8"/>
</g>
<rect x="228.7" y="258.5" width="42.7" height="33.69999999999999" fill="none" stroke="#b85462" stroke-width="1.1"/>
<text x="276.2" y="6.4" style="font-family:'Liberation Sans',sans-serif;font-weight:bold;font-size:7.8px" text-anchor="start" fill="#222" stroke="#222" stroke-width="0.3" textLength="5.7" lengthAdjust="spacingAndGlyphs">B</text>
<line x1="295.80" y1="10.60" x2="295.80" y2="86.30" stroke="#333" stroke-width="0.8"/>
<line x1="294.40" y1="86.30" x2="295.80" y2="86.30" stroke="#333" stroke-width="0.6"/>
<text x="293.6" y="88.03399999999999" style="font-family:'Liberation Serif',serif;font-weight:bold;font-size:5.1px" text-anchor="end" fill="#333" stroke="#333" stroke-width="0.178" textLength="2.5" lengthAdjust="spacingAndGlyphs">0</text>
<line x1="294.40" y1="72.50" x2="295.80" y2="72.50" stroke="#333" stroke-width="0.6"/>
<text x="293.6" y="74.234" style="font-family:'Liberation Serif',serif;font-weight:bold;font-size:5.1px" text-anchor="end" fill="#333" stroke="#333" stroke-width="0.178" textLength="7.5" lengthAdjust="spacingAndGlyphs">200</text>
<line x1="294.40" y1="58.70" x2="295.80" y2="58.70" stroke="#333" stroke-width="0.6"/>
<text x="293.6" y="60.434" style="font-family:'Liberation Serif',serif;font-weight:bold;font-size:5.1px" text-anchor="end" fill="#333" stroke="#333" stroke-width="0.178" textLength="7.5" lengthAdjust="spacingAndGlyphs">400</text>
<line x1="294.40" y1="44.90" x2="295.80" y2="44.90" stroke="#333" stroke-width="0.6"/>
<text x="293.6" y="46.63399999999999" style="font-family:'Liberation Serif',serif;font-weight:bold;font-size:5.1px" text-anchor="end" fill="#333" stroke="#333" stroke-width="0.178" textLength="7.5" lengthAdjust="spacingAndGlyphs">600</text>
<line x1="294.40" y1="31.10" x2="295.80" y2="31.10" stroke="#333" stroke-width="0.6"/>
<text x="293.6" y="32.833999999999996" style="font-family:'Liberation Serif',serif;font-weight:bold;font-size:5.1px" text-anchor="end" fill="#333" stroke="#333" stroke-width="0.178" textLength="7.5" lengthAdjust="spacingAndGlyphs">800</text>
<line x1="294.40" y1="17.30" x2="295.80" y2="17.30" stroke="#333" stroke-width="0.6"/>
<text x="293.6" y="19.034" style="font-family:'Liberation Serif',serif;font-weight:bold;font-size:5.1px" text-anchor="end" fill="#333" stroke="#333" stroke-width="0.178" textLength="10.0" lengthAdjust="spacingAndGlyphs">1000</text>
<line x1="295.00" y1="79.40" x2="295.80" y2="79.40" stroke="#333" stroke-width="0.5"/>
<line x1="295.00" y1="65.60" x2="295.80" y2="65.60" stroke="#333" stroke-width="0.5"/>
<line x1="295.00" y1="51.80" x2="295.80" y2="51.80" stroke="#333" stroke-width="0.5"/>
<line x1="295.00" y1="38.00" x2="295.80" y2="38.00" stroke="#333" stroke-width="0.5"/>
<line x1="295.00" y1="24.20" x2="295.80" y2="24.20" stroke="#333" stroke-width="0.5"/>
<line x1="295.80" y1="86.30" x2="398.40" y2="86.30" stroke="#333" stroke-width="0.8"/>
<rect x="297.90" y="85.75" width="9.80" height="0.55" fill="#cbcbcb" stroke="#666" stroke-width="0.6"/>
<line x1="302.80" y1="85.25" x2="302.80" y2="86.25" stroke="#333" stroke-width="0.5"/>
<line x1="301.30" y1="85.25" x2="304.30" y2="85.25" stroke="#333" stroke-width="0.5"/>
<line x1="301.30" y1="86.25" x2="304.30" y2="86.25" stroke="#333" stroke-width="0.5"/>
<rect x="309.30" y="85.75" width="9.80" height="0.55" fill="#7b7b7b" stroke="#555" stroke-width="0.6"/>
<line x1="314.20" y1="85.25" x2="314.20" y2="86.25" stroke="#333" stroke-width="0.5"/>
<line x1="312.70" y1="85.25" x2="315.70" y2="85.25" stroke="#333" stroke-width="0.5"/>
<line x1="312.70" y1="86.25" x2="315.70" y2="86.25" stroke="#333" stroke-width="0.5"/>
<line x1="308.50" y1="86.30" x2="308.50" y2="87.60" stroke="#333" stroke-width="0.6"/>
<text x="308.5" y="92.7" style="font-family:'Liberation Serif',serif;font-weight:bold;font-size:5.5px" text-anchor="middle" fill="#222" stroke="#222" stroke-width="0.193" textLength="6.1" lengthAdjust="spacingAndGlyphs">0d</text>
<rect x="323.40" y="77.88" width="9.80" height="8.42" fill="#cbcbcb" stroke="#666" stroke-width="0.6"/>
<line x1="328.30" y1="77.08" x2="328.30" y2="78.68" stroke="#333" stroke-width="0.5"/>
<line x1="326.80" y1="77.08" x2="329.80" y2="77.08" stroke="#333" stroke-width="0.5"/>
<line x1="326.80" y1="78.68" x2="329.80" y2="78.68" stroke="#333" stroke-width="0.5"/>
<rect x="334.80" y="63.18" width="9.80" height="23.12" fill="#7b7b7b" stroke="#555" stroke-width="0.6"/>
<line x1="339.70" y1="62.38" x2="339.70" y2="63.98" stroke="#333" stroke-width="0.5"/>
<line x1="338.20" y1="62.38" x2="341.20" y2="62.38" stroke="#333" stroke-width="0.5"/>
<line x1="338.20" y1="63.98" x2="341.20" y2="63.98" stroke="#333" stroke-width="0.5"/>
<line x1="334.00" y1="86.30" x2="334.00" y2="87.60" stroke="#333" stroke-width="0.6"/>
<text x="334.0" y="92.7" style="font-family:'Liberation Serif',serif;font-weight:bold;font-size:5.5px" text-anchor="middle" fill="#222" stroke="#222" stroke-width="0.193" textLength="6.1" lengthAdjust="spacingAndGlyphs">2w</text>
<rect x="349.40" y="70.98" width="9.80" height="15.32" fill="#cbcbcb" stroke="#666" stroke-width="0.6"/>
<line x1="354.30" y1="70.38" x2="354.30" y2="71.58" stroke="#333" stroke-width="0.5"/>
<line x1="352.80" y1="70.38" x2="355.80" y2="70.38" stroke="#333" stroke-width="0.5"/>
<line x1="352.80" y1="71.58" x2="355.80" y2="71.58" stroke="#333" stroke-width="0.5"/>
<rect x="360.80" y="52.21" width="9.80" height="34.09" fill="#7b7b7b" stroke="#555" stroke-width="0.6"/>
<line x1="365.70" y1="51.41" x2="365.70" y2="53.01" stroke="#333" stroke-width="0.5"/>
<line x1="364.20" y1="51.41" x2="367.20" y2="51.41" stroke="#333" stroke-width="0.5"/>
<line x1="364.20" y1="53.01" x2="367.20" y2="53.01" stroke="#333" stroke-width="0.5"/>
<line x1="360.00" y1="86.30" x2="360.00" y2="87.60" stroke="#333" stroke-width="0.6"/>
<text x="360.0" y="92.7" style="font-family:'Liberation Serif',serif;font-weight:bold;font-size:5.5px" text-anchor="middle" fill="#222" stroke="#222" stroke-width="0.193" textLength="6.1" lengthAdjust="spacingAndGlyphs">4w</text>
<rect x="374.90" y="58.70" width="9.80" height="27.60" fill="#cbcbcb" stroke="#666" stroke-width="0.6"/>
<line x1="379.80" y1="57.70" x2="379.80" y2="59.70" stroke="#333" stroke-width="0.5"/>
<line x1="378.30" y1="57.70" x2="381.30" y2="57.70" stroke="#333" stroke-width="0.5"/>
<line x1="378.30" y1="59.70" x2="381.30" y2="59.70" stroke="#333" stroke-width="0.5"/>
<rect x="386.30" y="23.99" width="9.80" height="62.31" fill="#7b7b7b" stroke="#555" stroke-width="0.6"/>
<line x1="391.20" y1="21.49" x2="391.20" y2="26.49" stroke="#333" stroke-width="0.5"/>
<line x1="389.70" y1="21.49" x2="392.70" y2="21.49" stroke="#333" stroke-width="0.5"/>
<line x1="389.70" y1="26.49" x2="392.70" y2="26.49" stroke="#333" stroke-width="0.5"/>
<line x1="385.50" y1="86.30" x2="385.50" y2="87.60" stroke="#333" stroke-width="0.6"/>
<text x="385.5" y="92.7" style="font-family:'Liberation Serif',serif;font-weight:bold;font-size:5.5px" text-anchor="middle" fill="#222" stroke="#222" stroke-width="0.193" textLength="6.1" lengthAdjust="spacingAndGlyphs">8w</text>
<path d="M328.50 75.50 V57.00 H339.90 V61.00" fill="none" stroke="#555" stroke-width="0.7"/>
<ellipse cx="332.22" cy="55.13" rx="0.65" ry="0.79" fill="#333"/>
<ellipse cx="334.20" cy="55.13" rx="0.65" ry="0.79" fill="#333"/>
<ellipse cx="336.18" cy="55.13" rx="0.65" ry="0.79" fill="#333"/>
<path d="M354.00 69.50 V45.70 H365.70 V50.50" fill="none" stroke="#555" stroke-width="0.7"/>
<ellipse cx="357.87" cy="43.83" rx="0.65" ry="0.79" fill="#333"/>
<ellipse cx="359.85" cy="43.83" rx="0.65" ry="0.79" fill="#333"/>
<ellipse cx="361.83" cy="43.83" rx="0.65" ry="0.79" fill="#333"/>
<path d="M379.40 57.00 V15.60 H391.00 V20.50" fill="none" stroke="#555" stroke-width="0.7"/>
<ellipse cx="383.22" cy="13.73" rx="0.65" ry="0.79" fill="#333"/>
<ellipse cx="385.20" cy="13.73" rx="0.65" ry="0.79" fill="#333"/>
<ellipse cx="387.18" cy="13.73" rx="0.65" ry="0.79" fill="#333"/>
<rect x="299.4" y="10.6" width="10.6" height="5.7" fill="#cbcbcb" stroke="#666" stroke-width="0.6"/>
<rect x="299.4" y="18.7" width="10.6" height="5.7" fill="#7b7b7b" stroke="#555" stroke-width="0.6"/>
<text x="311.6" y="15.5" style="font-family:'Liberation Serif',serif;font-weight:bold;font-size:5.2px" text-anchor="start" fill="#222" stroke="#222" stroke-width="0.182" textLength="8.8" lengthAdjust="spacingAndGlyphs">Ctrl</text>
<text x="311.6" y="23.4" style="font-family:'Liberation Serif',serif;font-weight:bold;font-size:5.2px" text-anchor="start" fill="#222" stroke="#222" stroke-width="0.182" textLength="13.5" lengthAdjust="spacingAndGlyphs">5 MPa</text>
<text x="0" y="0" style="font-family:'Liberation Serif',serif;font-weight:bold;font-size:6.1px" text-anchor="middle" fill="#222" stroke="#222" stroke-width="0.213" transform="translate(280.8 48.05) rotate(-90)" textLength="74.3" lengthAdjust="spacingAndGlyphs">GAG Content (μg/sample)</text>
<text x="275.8" y="100.0" style="font-family:'Liberation Sans',sans-serif;font-weight:bold;font-size:8.0px" text-anchor="start" fill="#222" stroke="#222" stroke-width="0.3" textLength="5.8" lengthAdjust="spacingAndGlyphs">C</text>
<line x1="295.80" y1="108.70" x2="295.80" y2="183.60" stroke="#333" stroke-width="0.8"/>
<line x1="294.40" y1="183.60" x2="295.80" y2="183.60" stroke="#333" stroke-width="0.6"/>
<text x="293.6" y="185.334" style="font-family:'Liberation Serif',serif;font-weight:bold;font-size:5.1px" text-anchor="end" fill="#333" stroke="#333" stroke-width="0.178" textLength="2.5" lengthAdjust="spacingAndGlyphs">0</text>
<line x1="294.40" y1="169.90" x2="295.80" y2="169.90" stroke="#333" stroke-width="0.6"/>
<text x="293.6" y="171.63400000000001" style="font-family:'Liberation Serif',serif;font-weight:bold;font-size:5.1px" text-anchor="end" fill="#333" stroke="#333" stroke-width="0.178" textLength="5.0" lengthAdjust="spacingAndGlyphs">50</text>
<line x1="294.40" y1="156.20" x2="295.80" y2="156.20" stroke="#333" stroke-width="0.6"/>
<text x="293.6" y="157.934" style="font-family:'Liberation Serif',serif;font-weight:bold;font-size:5.1px" text-anchor="end" fill="#333" stroke="#333" stroke-width="0.178" textLength="7.5" lengthAdjust="spacingAndGlyphs">100</text>
<line x1="294.40" y1="142.50" x2="295.80" y2="142.50" stroke="#333" stroke-width="0.6"/>
<text x="293.6" y="144.234" style="font-family:'Liberation Serif',serif;font-weight:bold;font-size:5.1px" text-anchor="end" fill="#333" stroke="#333" stroke-width="0.178" textLength="7.5" lengthAdjust="spacingAndGlyphs">150</text>
<line x1="294.40" y1="128.80" x2="295.80" y2="128.80" stroke="#333" stroke-width="0.6"/>
<text x="293.6" y="130.53400000000002" style="font-family:'Liberation Serif',serif;font-weight:bold;font-size:5.1px" text-anchor="end" fill="#333" stroke="#333" stroke-width="0.178" textLength="7.5" lengthAdjust="spacingAndGlyphs">200</text>
<line x1="294.40" y1="115.10" x2="295.80" y2="115.10" stroke="#333" stroke-width="0.6"/>
<text x="293.6" y="116.834" style="font-family:'Liberation Serif',serif;font-weight:bold;font-size:5.1px" text-anchor="end" fill="#333" stroke="#333" stroke-width="0.178" textLength="7.5" lengthAdjust="spacingAndGlyphs">250</text>
<line x1="295.00" y1="176.75" x2="295.80" y2="176.75" stroke="#333" stroke-width="0.5"/>
<line x1="295.00" y1="163.05" x2="295.80" y2="163.05" stroke="#333" stroke-width="0.5"/>
<line x1="295.00" y1="149.35" x2="295.80" y2="149.35" stroke="#333" stroke-width="0.5"/>
<line x1="295.00" y1="135.65" x2="295.80" y2="135.65" stroke="#333" stroke-width="0.5"/>
<line x1="295.00" y1="121.95" x2="295.80" y2="121.95" stroke="#333" stroke-width="0.5"/>
<line x1="295.80" y1="183.60" x2="398.40" y2="183.60" stroke="#333" stroke-width="0.8"/>
<rect x="297.90" y="153.46" width="9.80" height="30.14" fill="#cbcbcb" stroke="#666" stroke-width="0.6"/>
<line x1="302.80" y1="152.86" x2="302.80" y2="154.06" stroke="#333" stroke-width="0.5"/>
<line x1="301.30" y1="152.86" x2="304.30" y2="152.86" stroke="#333" stroke-width="0.5"/>
<line x1="301.30" y1="154.06" x2="304.30" y2="154.06" stroke="#333" stroke-width="0.5"/>
<rect x="309.30" y="152.64" width="9.80" height="30.96" fill="#7b7b7b" stroke="#555" stroke-width="0.6"/>
<line x1="314.20" y1="149.64" x2="314.20" y2="155.64" stroke="#333" stroke-width="0.5"/>
<line x1="312.70" y1="149.64" x2="315.70" y2="149.64" stroke="#333" stroke-width="0.5"/>
<line x1="312.70" y1="155.64" x2="315.70" y2="155.64" stroke="#333" stroke-width="0.5"/>
<line x1="308.50" y1="183.60" x2="308.50" y2="184.90" stroke="#333" stroke-width="0.6"/>
<text x="308.5" y="190.0" style="font-family:'Liberation Serif',serif;font-weight:bold;font-size:5.5px" text-anchor="middle" fill="#222" stroke="#222" stroke-width="0.193" textLength="6.1" lengthAdjust="spacingAndGlyphs">0d</text>
<rect x="323.40" y="146.34" width="9.80" height="37.26" fill="#cbcbcb" stroke="#666" stroke-width="0.6"/>
<line x1="328.30" y1="143.34" x2="328.30" y2="149.34" stroke="#333" stroke-width="0.5"/>
<line x1="326.80" y1="143.34" x2="329.80" y2="143.34" stroke="#333" stroke-width="0.5"/>
<line x1="326.80" y1="149.34" x2="329.80" y2="149.34" stroke="#333" stroke-width="0.5"/>
<rect x="334.80" y="142.50" width="9.80" height="41.10" fill="#7b7b7b" stroke="#555" stroke-width="0.6"/>
<line x1="339.70" y1="141.90" x2="339.70" y2="143.10" stroke="#333" stroke-width="0.5"/>
<line x1="338.20" y1="141.90" x2="341.20" y2="141.90" stroke="#333" stroke-width="0.5"/>
<line x1="338.20" y1="143.10" x2="341.20" y2="143.10" stroke="#333" stroke-width="0.5"/>
<line x1="334.00" y1="183.60" x2="334.00" y2="184.90" stroke="#333" stroke-width="0.6"/>
<text x="334.0" y="190.0" style="font-family:'Liberation Serif',serif;font-weight:bold;font-size:5.5px" text-anchor="middle" fill="#222" stroke="#222" stroke-width="0.193" textLength="6.1" lengthAdjust="spacingAndGlyphs">2w</text>
<rect x="349.40" y="141.95" width="9.80" height="41.65" fill="#cbcbcb" stroke="#666" stroke-width="0.6"/>
<line x1="354.30" y1="140.45" x2="354.30" y2="143.45" stroke="#333" stroke-width="0.5"/>
<line x1="352.80" y1="140.45" x2="355.80" y2="140.45" stroke="#333" stroke-width="0.5"/>
<line x1="352.80" y1="143.45" x2="355.80" y2="143.45" stroke="#333" stroke-width="0.5"/>
<rect x="360.80" y="135.10" width="9.80" height="48.50" fill="#7b7b7b" stroke="#555" stroke-width="0.6"/>
<line x1="365.70" y1="134.50" x2="365.70" y2="135.70" stroke="#333" stroke-width="0.5"/>
<line x1="364.20" y1="134.50" x2="367.20" y2="134.50" stroke="#333" stroke-width="0.5"/>
<line x1="364.20" y1="135.70" x2="367.20" y2="135.70" stroke="#333" stroke-width="0.5"/>
<line x1="360.00" y1="183.60" x2="360.00" y2="184.90" stroke="#333" stroke-width="0.6"/>
<text x="360.0" y="190.0" style="font-family:'Liberation Serif',serif;font-weight:bold;font-size:5.5px" text-anchor="middle" fill="#222" stroke="#222" stroke-width="0.193" textLength="6.1" lengthAdjust="spacingAndGlyphs">4w</text>
<rect x="374.90" y="140.03" width="9.80" height="43.57" fill="#cbcbcb" stroke="#666" stroke-width="0.6"/>
<line x1="379.80" y1="139.23" x2="379.80" y2="140.83" stroke="#333" stroke-width="0.5"/>
<line x1="378.30" y1="139.23" x2="381.30" y2="139.23" stroke="#333" stroke-width="0.5"/>
<line x1="378.30" y1="140.83" x2="381.30" y2="140.83" stroke="#333" stroke-width="0.5"/>
<rect x="386.30" y="121.13" width="9.80" height="62.47" fill="#7b7b7b" stroke="#555" stroke-width="0.6"/>
<line x1="391.20" y1="118.63" x2="391.20" y2="123.63" stroke="#333" stroke-width="0.5"/>
<line x1="389.70" y1="118.63" x2="392.70" y2="118.63" stroke="#333" stroke-width="0.5"/>
<line x1="389.70" y1="123.63" x2="392.70" y2="123.63" stroke="#333" stroke-width="0.5"/>
<line x1="385.50" y1="183.60" x2="385.50" y2="184.90" stroke="#333" stroke-width="0.6"/>
<text x="385.5" y="190.0" style="font-family:'Liberation Serif',serif;font-weight:bold;font-size:5.5px" text-anchor="middle" fill="#222" stroke="#222" stroke-width="0.193" textLength="6.1" lengthAdjust="spacingAndGlyphs">8w</text>
<path d="M328.70 142.50 V133.00 H339.70 V140.50" fill="none" stroke="#555" stroke-width="0.7"/>
<ellipse cx="334.20" cy="131.13" rx="0.65" ry="0.79" fill="#333"/>
<path d="M354.30 139.50 V125.00 H365.70 V133.50" fill="none" stroke="#555" stroke-width="0.7"/>
<ellipse cx="358.02" cy="123.13" rx="0.65" ry="0.79" fill="#333"/>
<ellipse cx="360.00" cy="123.13" rx="0.65" ry="0.79" fill="#333"/>
<ellipse cx="361.98" cy="123.13" rx="0.65" ry="0.79" fill="#333"/>
<path d="M379.80 138.00 V113.30 H391.20 V117.50" fill="none" stroke="#555" stroke-width="0.7"/>
<ellipse cx="383.52" cy="111.43" rx="0.65" ry="0.79" fill="#333"/>
<ellipse cx="385.50" cy="111.43" rx="0.65" ry="0.79" fill="#333"/>
<ellipse cx="387.48" cy="111.43" rx="0.65" ry="0.79" fill="#333"/>
<rect x="300.2" y="108.7" width="10.2" height="4.6" fill="#cbcbcb" stroke="#666" stroke-width="0.6"/>
<rect x="300.2" y="116.5" width="10.2" height="4.9" fill="#7b7b7b" stroke="#555" stroke-width="0.6"/>
<text x="311.6" y="113.0" style="font-family:'Liberation Serif',serif;font-weight:bold;font-size:5.2px" text-anchor="start" fill="#222" stroke="#222" stroke-width="0.182" textLength="9.0" lengthAdjust="spacingAndGlyphs">Ctrl</text>
<text x="311.6" y="121.0" style="font-family:'Liberation Serif',serif;font-weight:bold;font-size:5.2px" text-anchor="start" fill="#222" stroke="#222" stroke-width="0.182" textLength="14.5" lengthAdjust="spacingAndGlyphs">5 MPa</text>
<text x="0" y="0" style="font-family:'Liberation Serif',serif;font-weight:bold;font-size:6.3px" text-anchor="middle" fill="#222" stroke="#222" stroke-width="0.221" transform="translate(283.0 147.0) rotate(-90)" textLength="80.4" lengthAdjust="spacingAndGlyphs">Collagen Content (μg/sample)</text>
<text x="276.6" y="200.6" style="font-family:'Liberation Sans',sans-serif;font-weight:bold;font-size:8.0px" text-anchor="start" fill="#222" stroke="#222" stroke-width="0.3" textLength="9.5" lengthAdjust="spacingAndGlyphs">D1</text>
<line x1="297.30" y1="200.60" x2="297.30" y2="279.30" stroke="#333" stroke-width="0.8"/>
<line x1="295.90" y1="271.40" x2="297.30" y2="271.40" stroke="#333" stroke-width="0.6"/>
<text x="295.40000000000003" y="272.92999999999995" style="font-family:'Liberation Serif',serif;font-weight:bold;font-size:4.5px" text-anchor="end" fill="#333" stroke="#333" stroke-width="0.158" textLength="7.7" lengthAdjust="spacingAndGlyphs">0.00</text>
<line x1="295.90" y1="255.50" x2="297.30" y2="255.50" stroke="#333" stroke-width="0.6"/>
<text x="295.40000000000003" y="257.03" style="font-family:'Liberation Serif',serif;font-weight:bold;font-size:4.5px" text-anchor="end" fill="#333" stroke="#333" stroke-width="0.158" textLength="7.7" lengthAdjust="spacingAndGlyphs">0.05</text>
<line x1="295.90" y1="239.60" x2="297.30" y2="239.60" stroke="#333" stroke-width="0.6"/>
<text x="295.40000000000003" y="241.12999999999997" style="font-family:'Liberation Serif',serif;font-weight:bold;font-size:4.5px" text-anchor="end" fill="#333" stroke="#333" stroke-width="0.158" textLength="7.7" lengthAdjust="spacingAndGlyphs">0.10</text>
<line x1="295.90" y1="223.70" x2="297.30" y2="223.70" stroke="#333" stroke-width="0.6"/>
<text x="295.40000000000003" y="225.23" style="font-family:'Liberation Serif',serif;font-weight:bold;font-size:4.5px" text-anchor="end" fill="#333" stroke="#333" stroke-width="0.158" textLength="7.7" lengthAdjust="spacingAndGlyphs">0.15</text>
<line x1="295.90" y1="207.80" x2="297.30" y2="207.80" stroke="#333" stroke-width="0.6"/>
<text x="295.40000000000003" y="209.32999999999998" style="font-family:'Liberation Serif',serif;font-weight:bold;font-size:4.5px" text-anchor="end" fill="#333" stroke="#333" stroke-width="0.158" textLength="7.7" lengthAdjust="spacingAndGlyphs">0.20</text>
<line x1="296.50" y1="263.45" x2="297.30" y2="263.45" stroke="#333" stroke-width="0.5"/>
<line x1="296.50" y1="247.55" x2="297.30" y2="247.55" stroke="#333" stroke-width="0.5"/>
<line x1="296.50" y1="231.65" x2="297.30" y2="231.65" stroke="#333" stroke-width="0.5"/>
<line x1="296.50" y1="215.75" x2="297.30" y2="215.75" stroke="#333" stroke-width="0.5"/>
<line x1="296.50" y1="279.35" x2="297.30" y2="279.35" stroke="#333" stroke-width="0.5"/>
<line x1="297.30" y1="279.00" x2="400.00" y2="279.00" stroke="#333" stroke-width="0.8"/>
<line x1="308.50" y1="279.30" x2="308.50" y2="280.80" stroke="#333" stroke-width="0.6"/>
<text x="308.5" y="286.2" style="font-family:'Liberation Serif',serif;font-weight:bold;font-size:4.8px" text-anchor="middle" fill="#222" stroke="#222" stroke-width="0.168" textLength="6.4" lengthAdjust="spacingAndGlyphs">0.0</text>
<line x1="330.10" y1="279.30" x2="330.10" y2="280.80" stroke="#333" stroke-width="0.6"/>
<text x="330.1" y="286.2" style="font-family:'Liberation Serif',serif;font-weight:bold;font-size:4.8px" text-anchor="middle" fill="#222" stroke="#222" stroke-width="0.168" textLength="6.4" lengthAdjust="spacingAndGlyphs">0.2</text>
<line x1="351.70" y1="279.30" x2="351.70" y2="280.80" stroke="#333" stroke-width="0.6"/>
<text x="351.7" y="286.2" style="font-family:'Liberation Serif',serif;font-weight:bold;font-size:4.8px" text-anchor="middle" fill="#222" stroke="#222" stroke-width="0.168" textLength="6.4" lengthAdjust="spacingAndGlyphs">0.4</text>
<line x1="373.30" y1="279.30" x2="373.30" y2="280.80" stroke="#333" stroke-width="0.6"/>
<text x="373.3" y="286.2" style="font-family:'Liberation Serif',serif;font-weight:bold;font-size:4.8px" text-anchor="middle" fill="#222" stroke="#222" stroke-width="0.168" textLength="6.4" lengthAdjust="spacingAndGlyphs">0.6</text>
<line x1="394.90" y1="279.30" x2="394.90" y2="280.80" stroke="#333" stroke-width="0.6"/>
<text x="394.9" y="286.2" style="font-family:'Liberation Serif',serif;font-weight:bold;font-size:4.8px" text-anchor="middle" fill="#222" stroke="#222" stroke-width="0.168" textLength="6.4" lengthAdjust="spacingAndGlyphs">0.8</text>
<text x="346.3" y="296.0" style="font-family:'Liberation Serif',serif;font-weight:bold;font-size:6.6px" text-anchor="middle" fill="#222" stroke="#222" stroke-width="0.231">Strain</text>
<text x="0" y="0" style="font-family:'Liberation Serif',serif;font-weight:bold;font-size:6.2px" text-anchor="middle" fill="#222" stroke="#222" stroke-width="0.217" transform="translate(282.2 235.2) rotate(-90)" textLength="31.6" lengthAdjust="spacingAndGlyphs">Stress (MPa)</text>
<path d="M308 271.3 C318 270 326 267.5 333 264.8 C343 260.5 352 254.5 358 248.5 C365 241 370 231 378.7 212.3 L387.2 218.2" fill="none" stroke="#e46a78" stroke-width="1.1" stroke-linejoin="round"/>
<path d="M308 271.3 C318 270 326 267.5 333 265 C343 261 352 255.5 360 250.5 L373.8 239.2 L378.6 247.5" fill="none" stroke="#5a5a5a" stroke-width="1.1" stroke-linejoin="round"/>
<path d="M308 271.3 C325 270.8 340 269.8 350 268 C358 266.3 365 262.5 373.8 258.8 L376.3 265.6" fill="none" stroke="#4a8cd4" stroke-width="1.1" stroke-linejoin="round"/>
<line x1="301.00" y1="204.60" x2="313.00" y2="204.60" stroke="#f08a8a" stroke-width="1.0"/>
<line x1="301.00" y1="211.30" x2="313.00" y2="211.30" stroke="#8a8a8a" stroke-width="1.0"/>
<line x1="301.00" y1="218.20" x2="313.00" y2="218.20" stroke="#7aaee0" stroke-width="1.0"/>
<text x="314.2" y="206.4" style="font-family:'Liberation Serif',serif;font-weight:bold;font-size:5.0px" text-anchor="start" fill="#222" stroke="#222" stroke-width="0.175" textLength="14.3" lengthAdjust="spacingAndGlyphs">5 MPa</text>
<text x="314.2" y="213.1" style="font-family:'Liberation Serif',serif;font-weight:bold;font-size:5.0px" text-anchor="start" fill="#222" stroke="#222" stroke-width="0.175" textLength="9.6" lengthAdjust="spacingAndGlyphs">Ctrl</text>
<text x="314.2" y="220.0" style="font-family:'Liberation Serif',serif;font-weight:bold;font-size:5.0px" text-anchor="start" fill="#222" stroke="#222" stroke-width="0.175" textLength="8.3" lengthAdjust="spacingAndGlyphs">Gel</text>
<pattern id="dots" x="0" y="0" width="1.6" height="1.6" patternUnits="userSpaceOnUse"><rect width="1.6" height="1.6" fill="#e6e6e6"/><circle cx="0.8" cy="0.8" r="0.45" fill="#b8b8b8"/></pattern>
<text x="1.0" y="309.6" style="font-family:'Liberation Sans',sans-serif;font-weight:bold;font-size:8.6px" text-anchor="start" fill="#222" stroke="#222" stroke-width="0.3" textLength="10.0" lengthAdjust="spacingAndGlyphs">D2</text>
<line x1="15.20" y1="315.90" x2="15.20" y2="384.80" stroke="#333" stroke-width="0.8"/>
<line x1="13.80" y1="384.80" x2="15.20" y2="384.80" stroke="#333" stroke-width="0.6"/>
<text x="13.1" y="386.262" style="font-family:'Liberation Serif',serif;font-weight:bold;font-size:4.3px" text-anchor="end" fill="#333" stroke="#333" stroke-width="0.15" textLength="5.12" lengthAdjust="spacingAndGlyphs">0.0</text>
<line x1="13.80" y1="357.50" x2="15.20" y2="357.50" stroke="#333" stroke-width="0.6"/>
<text x="13.1" y="358.962" style="font-family:'Liberation Serif',serif;font-weight:bold;font-size:4.3px" text-anchor="end" fill="#333" stroke="#333" stroke-width="0.15" textLength="5.12" lengthAdjust="spacingAndGlyphs">0.5</text>
<line x1="13.80" y1="330.20" x2="15.20" y2="330.20" stroke="#333" stroke-width="0.6"/>
<text x="13.1" y="331.662" style="font-family:'Liberation Serif',serif;font-weight:bold;font-size:4.3px" text-anchor="end" fill="#333" stroke="#333" stroke-width="0.15" textLength="5.12" lengthAdjust="spacingAndGlyphs">1.0</text>
<line x1="14.40" y1="371.15" x2="15.20" y2="371.15" stroke="#333" stroke-width="0.5"/>
<line x1="14.40" y1="343.85" x2="15.20" y2="343.85" stroke="#333" stroke-width="0.5"/>
<line x1="14.40" y1="316.55" x2="15.20" y2="316.55" stroke="#333" stroke-width="0.5"/>
<line x1="15.20" y1="384.80" x2="65.60" y2="384.80" stroke="#333" stroke-width="0.8"/>
<rect x="18.40" y="372.00" width="11.40" height="12.80" fill="url(#dots)" stroke="#666" stroke-width="0.9"/>
<line x1="24.10" y1="370.40" x2="24.10" y2="373.60" stroke="#333" stroke-width="0.5"/>
<line x1="22.60" y1="370.40" x2="25.60" y2="370.40" stroke="#333" stroke-width="0.5"/>
<line x1="22.60" y1="373.60" x2="25.60" y2="373.60" stroke="#333" stroke-width="0.5"/>
<rect x="35.90" y="332.00" width="11.10" height="52.80" fill="url(#dots)" stroke="#666" stroke-width="0.9"/>
<line x1="41.45" y1="330.40" x2="41.45" y2="333.60" stroke="#333" stroke-width="0.5"/>
<line x1="39.95" y1="330.40" x2="42.95" y2="330.40" stroke="#333" stroke-width="0.5"/>
<line x1="39.95" y1="333.60" x2="42.95" y2="333.60" stroke="#333" stroke-width="0.5"/>
<rect x="54.00" y="374.70" width="10.90" height="10.10" fill="url(#dots)" stroke="#666" stroke-width="0.9"/>
<line x1="59.45" y1="374.10" x2="59.45" y2="375.30" stroke="#333" stroke-width="0.5"/>
<line x1="57.95" y1="374.10" x2="60.95" y2="374.10" stroke="#333" stroke-width="0.5"/>
<line x1="57.95" y1="375.30" x2="60.95" y2="375.30" stroke="#333" stroke-width="0.5"/>
<path d="M24.10 370.00 V322.20 H40.40 V329.50" fill="none" stroke="#777" stroke-width="0.7"/>
<ellipse cx="30.16" cy="320.22" rx="0.69" ry="0.83" fill="#333"/>
<ellipse cx="32.25" cy="320.22" rx="0.69" ry="0.83" fill="#333"/>
<ellipse cx="34.34" cy="320.22" rx="0.69" ry="0.83" fill="#333"/>
<path d="M42.40 329.50 V322.20 H59.40 V373.50" fill="none" stroke="#777" stroke-width="0.7"/>
<ellipse cx="48.81" cy="320.22" rx="0.69" ry="0.83" fill="#333"/>
<ellipse cx="50.90" cy="320.22" rx="0.69" ry="0.83" fill="#333"/>
<ellipse cx="52.99" cy="320.22" rx="0.69" ry="0.83" fill="#333"/>
<text x="25.0" y="391.0" style="font-family:'Liberation Serif',serif;font-weight:bold;font-size:4.6px" text-anchor="middle" fill="#222" stroke="#222" stroke-width="0.161" textLength="7.5" lengthAdjust="spacingAndGlyphs">Ctrl</text>
<text x="40.7" y="391.0" style="font-family:'Liberation Serif',serif;font-weight:bold;font-size:4.6px" text-anchor="middle" fill="#222" stroke="#222" stroke-width="0.161" textLength="12.0" lengthAdjust="spacingAndGlyphs">5 MPa</text>
<text x="59.5" y="391.0" style="font-family:'Liberation Serif',serif;font-weight:bold;font-size:4.6px" text-anchor="middle" fill="#222" stroke="#222" stroke-width="0.161" textLength="6.9" lengthAdjust="spacingAndGlyphs">Gel</text>
<text x="0" y="0" style="font-family:'Liberation Serif',serif;font-weight:bold;font-size:4.8px" text-anchor="middle" fill="#333" stroke="#333" stroke-width="0.168" transform="translate(5.4 350.5) rotate(-90)" textLength="73.0" lengthAdjust="spacingAndGlyphs">Compressive Modulus (MPa)</text>
<text x="69.5" y="309.6" style="font-family:'Liberation Sans',sans-serif;font-weight:bold;font-size:8.6px" text-anchor="start" fill="#222" stroke="#222" stroke-width="0.3" textLength="10.0" lengthAdjust="spacingAndGlyphs">D3</text>
<line x1="83.80" y1="317.80" x2="83.80" y2="384.50" stroke="#333" stroke-width="0.8"/>
<line x1="82.40" y1="384.50" x2="83.80" y2="384.50" stroke="#333" stroke-width="0.6"/>
<text x="81.7" y="385.962" style="font-family:'Liberation Serif',serif;font-weight:bold;font-size:4.3px" text-anchor="end" fill="#333" stroke="#333" stroke-width="0.15" textLength="5.12" lengthAdjust="spacingAndGlyphs">0.0</text>
<line x1="82.40" y1="357.70" x2="83.80" y2="357.70" stroke="#333" stroke-width="0.6"/>
<text x="81.7" y="359.162" style="font-family:'Liberation Serif',serif;font-weight:bold;font-size:4.3px" text-anchor="end" fill="#333" stroke="#333" stroke-width="0.15" textLength="5.12" lengthAdjust="spacingAndGlyphs">0.1</text>
<line x1="82.40" y1="330.90" x2="83.80" y2="330.90" stroke="#333" stroke-width="0.6"/>
<text x="81.7" y="332.36199999999997" style="font-family:'Liberation Serif',serif;font-weight:bold;font-size:4.3px" text-anchor="end" fill="#333" stroke="#333" stroke-width="0.15" textLength="5.12" lengthAdjust="spacingAndGlyphs">0.2</text>
<line x1="83.00" y1="371.10" x2="83.80" y2="371.10" stroke="#333" stroke-width="0.5"/>
<line x1="83.00" y1="344.30" x2="83.80" y2="344.30" stroke="#333" stroke-width="0.5"/>
<line x1="83.00" y1="317.50" x2="83.80" y2="317.50" stroke="#333" stroke-width="0.5"/>
<line x1="83.80" y1="384.50" x2="133.50" y2="384.50" stroke="#333" stroke-width="0.8"/>
<rect x="87.00" y="356.10" width="11.00" height="28.40" fill="url(#dots)" stroke="#666" stroke-width="0.9"/>
<line x1="92.50" y1="354.30" x2="92.50" y2="357.90" stroke="#333" stroke-width="0.5"/>
<line x1="91.00" y1="354.30" x2="94.00" y2="354.30" stroke="#333" stroke-width="0.5"/>
<line x1="91.00" y1="357.90" x2="94.00" y2="357.90" stroke="#333" stroke-width="0.5"/>
<rect x="104.60" y="326.70" width="11.10" height="57.80" fill="url(#dots)" stroke="#666" stroke-width="0.9"/>
<line x1="110.15" y1="324.40" x2="110.15" y2="329.00" stroke="#333" stroke-width="0.5"/>
<line x1="108.65" y1="324.40" x2="111.65" y2="324.40" stroke="#333" stroke-width="0.5"/>
<line x1="108.65" y1="329.00" x2="111.65" y2="329.00" stroke="#333" stroke-width="0.5"/>
<rect x="122.00" y="371.20" width="11.00" height="13.30" fill="url(#dots)" stroke="#666" stroke-width="0.9"/>
<line x1="127.50" y1="366.70" x2="127.50" y2="375.70" stroke="#333" stroke-width="0.5"/>
<line x1="126.00" y1="366.70" x2="129.00" y2="366.70" stroke="#333" stroke-width="0.5"/>
<line x1="126.00" y1="375.70" x2="129.00" y2="375.70" stroke="#333" stroke-width="0.5"/>
<path d="M92.50 352.50 V319.80 H109.60 V323.50" fill="none" stroke="#777" stroke-width="0.7"/>
<ellipse cx="98.96" cy="317.82" rx="0.69" ry="0.83" fill="#333"/>
<ellipse cx="101.05" cy="317.82" rx="0.69" ry="0.83" fill="#333"/>
<ellipse cx="103.14" cy="317.82" rx="0.69" ry="0.83" fill="#333"/>
<path d="M111.50 323.50 V319.80 H127.50 V365.50" fill="none" stroke="#777" stroke-width="0.7"/>
<ellipse cx="117.41" cy="317.82" rx="0.69" ry="0.83" fill="#333"/>
<ellipse cx="119.50" cy="317.82" rx="0.69" ry="0.83" fill="#333"/>
<ellipse cx="121.59" cy="317.82" rx="0.69" ry="0.83" fill="#333"/>
<text x="93.0" y="391.0" style="font-family:'Liberation Serif',serif;font-weight:bold;font-size:4.6px" text-anchor="middle" fill="#222" stroke="#222" stroke-width="0.161" textLength="7.5" lengthAdjust="spacingAndGlyphs">Ctrl</text>
<text x="110.1" y="391.0" style="font-family:'Liberation Serif',serif;font-weight:bold;font-size:4.6px" text-anchor="middle" fill="#222" stroke="#222" stroke-width="0.161" textLength="12.0" lengthAdjust="spacingAndGlyphs">5 MPa</text>
<text x="127.5" y="391.0" style="font-family:'Liberation Serif',serif;font-weight:bold;font-size:4.6px" text-anchor="middle" fill="#222" stroke="#222" stroke-width="0.161" textLength="6.9" lengthAdjust="spacingAndGlyphs">Gel</text>
<text x="0" y="0" style="font-family:'Liberation Serif',serif;font-weight:bold;font-size:4.6px" text-anchor="middle" fill="#444" stroke="#444" stroke-width="0.161" transform="translate(74.3 351.0) rotate(-90)" textLength="70.0" lengthAdjust="spacingAndGlyphs">Compressive Strength (MPa)</text>
<text x="139.8" y="309.6" style="font-family:'Liberation Sans',sans-serif;font-weight:bold;font-size:8.6px" text-anchor="start" fill="#222" stroke="#222" stroke-width="0.3" textLength="9.3" lengthAdjust="spacingAndGlyphs">E1</text>
<line x1="152.30" y1="319.00" x2="152.30" y2="384.50" stroke="#333" stroke-width="0.8"/>
<line x1="150.90" y1="384.50" x2="152.30" y2="384.50" stroke="#333" stroke-width="0.6"/>
<text x="150.20000000000002" y="385.758" style="font-family:'Liberation Serif',serif;font-weight:bold;font-size:3.7px" text-anchor="end" fill="#333" stroke="#333" stroke-width="0.13" textLength="2.1" lengthAdjust="spacingAndGlyphs">0</text>
<line x1="150.90" y1="371.43" x2="152.30" y2="371.43" stroke="#333" stroke-width="0.6"/>
<text x="150.20000000000002" y="372.688" style="font-family:'Liberation Serif',serif;font-weight:bold;font-size:3.7px" text-anchor="end" fill="#333" stroke="#333" stroke-width="0.13" textLength="4.2" lengthAdjust="spacingAndGlyphs">20</text>
<line x1="150.90" y1="358.36" x2="152.30" y2="358.36" stroke="#333" stroke-width="0.6"/>
<text x="150.20000000000002" y="359.618" style="font-family:'Liberation Serif',serif;font-weight:bold;font-size:3.7px" text-anchor="end" fill="#333" stroke="#333" stroke-width="0.13" textLength="4.2" lengthAdjust="spacingAndGlyphs">40</text>
<line x1="150.90" y1="345.29" x2="152.30" y2="345.29" stroke="#333" stroke-width="0.6"/>
<text x="150.20000000000002" y="346.548" style="font-family:'Liberation Serif',serif;font-weight:bold;font-size:3.7px" text-anchor="end" fill="#333" stroke="#333" stroke-width="0.13" textLength="4.2" lengthAdjust="spacingAndGlyphs">60</text>
<line x1="150.90" y1="332.22" x2="152.30" y2="332.22" stroke="#333" stroke-width="0.6"/>
<text x="150.20000000000002" y="333.478" style="font-family:'Liberation Serif',serif;font-weight:bold;font-size:3.7px" text-anchor="end" fill="#333" stroke="#333" stroke-width="0.13" textLength="4.2" lengthAdjust="spacingAndGlyphs">80</text>
<line x1="150.90" y1="319.15" x2="152.30" y2="319.15" stroke="#333" stroke-width="0.6"/>
<text x="150.20000000000002" y="320.40799999999996" style="font-family:'Liberation Serif',serif;font-weight:bold;font-size:3.7px" text-anchor="end" fill="#333" stroke="#333" stroke-width="0.13" textLength="6.3" lengthAdjust="spacingAndGlyphs">100</text>
<line x1="152.30" y1="384.50" x2="217.70" y2="384.50" stroke="#333" stroke-width="0.8"/>
<rect x="153.70" y="383.85" width="6.60" height="0.65" fill="#afe3f3" stroke="#4a7c9c" stroke-width="0.6"/>
<line x1="157.00" y1="383.55" x2="157.00" y2="384.15" stroke="#333" stroke-width="0.5"/>
<line x1="155.50" y1="383.55" x2="158.50" y2="383.55" stroke="#333" stroke-width="0.5"/>
<line x1="155.50" y1="384.15" x2="158.50" y2="384.15" stroke="#333" stroke-width="0.5"/>
<rect x="160.90" y="383.85" width="6.60" height="0.65" fill="#b9bcf0" stroke="#5a5a9a" stroke-width="0.6"/>
<line x1="164.20" y1="383.55" x2="164.20" y2="384.15" stroke="#333" stroke-width="0.5"/>
<line x1="162.70" y1="383.55" x2="165.70" y2="383.55" stroke="#333" stroke-width="0.5"/>
<line x1="162.70" y1="384.15" x2="165.70" y2="384.15" stroke="#333" stroke-width="0.5"/>
<text x="160.6" y="389.0" style="font-family:'Liberation Serif',serif;font-weight:bold;font-size:4.0px" text-anchor="middle" fill="#222" stroke="#222" stroke-width="0.14" textLength="4.4" lengthAdjust="spacingAndGlyphs">0d</text>
<rect x="169.90" y="334.18" width="6.60" height="50.32" fill="#afe3f3" stroke="#4a7c9c" stroke-width="0.6"/>
<line x1="173.20" y1="331.18" x2="173.20" y2="337.18" stroke="#333" stroke-width="0.5"/>
<line x1="171.70" y1="331.18" x2="174.70" y2="331.18" stroke="#333" stroke-width="0.5"/>
<line x1="171.70" y1="337.18" x2="174.70" y2="337.18" stroke="#333" stroke-width="0.5"/>
<rect x="177.10" y="351.63" width="6.60" height="32.87" fill="#b9bcf0" stroke="#5a5a9a" stroke-width="0.6"/>
<line x1="180.40" y1="349.63" x2="180.40" y2="353.63" stroke="#333" stroke-width="0.5"/>
<line x1="178.90" y1="349.63" x2="181.90" y2="349.63" stroke="#333" stroke-width="0.5"/>
<line x1="178.90" y1="353.63" x2="181.90" y2="353.63" stroke="#333" stroke-width="0.5"/>
<text x="176.8" y="389.0" style="font-family:'Liberation Serif',serif;font-weight:bold;font-size:4.0px" text-anchor="middle" fill="#222" stroke="#222" stroke-width="0.14" textLength="4.4" lengthAdjust="spacingAndGlyphs">2w</text>
<rect x="186.30" y="370.58" width="6.60" height="13.92" fill="#afe3f3" stroke="#4a7c9c" stroke-width="0.6"/>
<line x1="189.60" y1="370.08" x2="189.60" y2="371.08" stroke="#333" stroke-width="0.5"/>
<line x1="188.10" y1="370.08" x2="191.10" y2="370.08" stroke="#333" stroke-width="0.5"/>
<line x1="188.10" y1="371.08" x2="191.10" y2="371.08" stroke="#333" stroke-width="0.5"/>
<rect x="193.50" y="365.29" width="6.60" height="19.21" fill="#b9bcf0" stroke="#5a5a9a" stroke-width="0.6"/>
<line x1="196.80" y1="364.09" x2="196.80" y2="366.49" stroke="#333" stroke-width="0.5"/>
<line x1="195.30" y1="364.09" x2="198.30" y2="364.09" stroke="#333" stroke-width="0.5"/>
<line x1="195.30" y1="366.49" x2="198.30" y2="366.49" stroke="#333" stroke-width="0.5"/>
<text x="193.2" y="389.0" style="font-family:'Liberation Serif',serif;font-weight:bold;font-size:4.0px" text-anchor="middle" fill="#222" stroke="#222" stroke-width="0.14" textLength="4.4" lengthAdjust="spacingAndGlyphs">4w</text>
<rect x="203.00" y="382.34" width="6.60" height="2.16" fill="#afe3f3" stroke="#4a7c9c" stroke-width="0.6"/>
<line x1="206.30" y1="381.84" x2="206.30" y2="382.84" stroke="#333" stroke-width="0.5"/>
<line x1="204.80" y1="381.84" x2="207.80" y2="381.84" stroke="#333" stroke-width="0.5"/>
<line x1="204.80" y1="382.84" x2="207.80" y2="382.84" stroke="#333" stroke-width="0.5"/>
<rect x="210.20" y="381.30" width="6.60" height="3.20" fill="#b9bcf0" stroke="#5a5a9a" stroke-width="0.6"/>
<line x1="213.50" y1="380.80" x2="213.50" y2="381.80" stroke="#333" stroke-width="0.5"/>
<line x1="212.00" y1="380.80" x2="215.00" y2="380.80" stroke="#333" stroke-width="0.5"/>
<line x1="212.00" y1="381.80" x2="215.00" y2="381.80" stroke="#333" stroke-width="0.5"/>
<text x="209.9" y="389.0" style="font-family:'Liberation Serif',serif;font-weight:bold;font-size:4.0px" text-anchor="middle" fill="#222" stroke="#222" stroke-width="0.14" textLength="4.4" lengthAdjust="spacingAndGlyphs">8w</text>
<path d="M173.30 328.50 V323.80 H180.70 V345.00" fill="none" stroke="#777" stroke-width="0.7"/>
<ellipse cx="175.13" cy="322.03" rx="0.61" ry="0.74" fill="#333"/>
<ellipse cx="177.00" cy="322.03" rx="0.61" ry="0.74" fill="#333"/>
<ellipse cx="178.87" cy="322.03" rx="0.61" ry="0.74" fill="#333"/>
<path d="M189.40 368.00 V358.90 H197.80 V363.00" fill="none" stroke="#777" stroke-width="0.7"/>
<ellipse cx="191.73" cy="357.13" rx="0.61" ry="0.74" fill="#333"/>
<ellipse cx="193.60" cy="357.13" rx="0.61" ry="0.74" fill="#333"/>
<ellipse cx="195.47" cy="357.13" rx="0.61" ry="0.74" fill="#333"/>
<path d="M206.40 380.00 V373.90 H212.80 V379.00" fill="none" stroke="#777" stroke-width="0.7"/>
<ellipse cx="207.73" cy="372.13" rx="0.61" ry="0.74" fill="#333"/>
<ellipse cx="209.60" cy="372.13" rx="0.61" ry="0.74" fill="#333"/>
<ellipse cx="211.47" cy="372.13" rx="0.61" ry="0.74" fill="#333"/>
<rect x="195.4" y="317.6" width="9.0" height="5.0" fill="#afe3f3" stroke="#4a7c9c" stroke-width="0.6"/>
<rect x="195.4" y="322.6" width="9.0" height="5.0" fill="#b9bcf0" stroke="#5a5a9a" stroke-width="0.6"/>
<line x1="195.4" y1="322.6" x2="204.4" y2="322.6" stroke="#3a5a7a" stroke-width="0.9"/>
<text x="205.5" y="321.3" style="font-family:'Liberation Serif',serif;font-weight:bold;font-size:3.9px" text-anchor="start" fill="#222" stroke="#222" stroke-width="0.137" textLength="7.0" lengthAdjust="spacingAndGlyphs">Ctrl</text>
<text x="205.5" y="326.5" style="font-family:'Liberation Serif',serif;font-weight:bold;font-size:3.9px" text-anchor="start" fill="#222" stroke="#222" stroke-width="0.137" textLength="11.2" lengthAdjust="spacingAndGlyphs">5 MPa</text>
<text x="0" y="0" style="font-family:'Liberation Serif',serif;font-weight:bold;font-size:4.4px" text-anchor="middle" fill="#333" stroke="#333" stroke-width="0.154" transform="translate(141.9 351.6) rotate(-90)" textLength="68.8" lengthAdjust="spacingAndGlyphs">ACAN Expression (Fold Change)</text>
<line x1="170.3" y1="345.2" x2="183.8" y2="345.2" stroke="#fff" stroke-width="0.8"/>
<line x1="170.3" y1="358.5" x2="183.8" y2="358.5" stroke="#fff" stroke-width="0.8"/>
<text x="222.3" y="309.6" style="font-family:'Liberation Sans',sans-serif;font-weight:bold;font-size:8.6px" text-anchor="start" fill="#222" stroke="#222" stroke-width="0.3" textLength="9.7" lengthAdjust="spacingAndGlyphs">E2</text>
<line x1="232.90" y1="321.00" x2="232.90" y2="381.50" stroke="#333" stroke-width="0.8"/>
<line x1="231.50" y1="381.50" x2="232.90" y2="381.50" stroke="#333" stroke-width="0.6"/>
<text x="231.0" y="382.758" style="font-family:'Liberation Serif',serif;font-weight:bold;font-size:3.7px" text-anchor="end" fill="#333" stroke="#333" stroke-width="0.13" textLength="1.75" lengthAdjust="spacingAndGlyphs">0</text>
<line x1="231.50" y1="361.33" x2="232.90" y2="361.33" stroke="#333" stroke-width="0.6"/>
<text x="231.0" y="362.58799999999997" style="font-family:'Liberation Serif',serif;font-weight:bold;font-size:3.7px" text-anchor="end" fill="#333" stroke="#333" stroke-width="0.13" textLength="3.5" lengthAdjust="spacingAndGlyphs">10</text>
<line x1="231.50" y1="341.16" x2="232.90" y2="341.16" stroke="#333" stroke-width="0.6"/>
<text x="231.0" y="342.418" style="font-family:'Liberation Serif',serif;font-weight:bold;font-size:3.7px" text-anchor="end" fill="#333" stroke="#333" stroke-width="0.13" textLength="3.5" lengthAdjust="spacingAndGlyphs">20</text>
<line x1="231.50" y1="320.99" x2="232.90" y2="320.99" stroke="#333" stroke-width="0.6"/>
<text x="231.0" y="322.248" style="font-family:'Liberation Serif',serif;font-weight:bold;font-size:3.7px" text-anchor="end" fill="#333" stroke="#333" stroke-width="0.13" textLength="3.5" lengthAdjust="spacingAndGlyphs">30</text>
<line x1="232.90" y1="381.50" x2="308.20" y2="381.50" stroke="#333" stroke-width="0.8"/>
<rect x="234.25" y="379.48" width="7.50" height="2.02" fill="#afe3f3" stroke="#4a7c9c" stroke-width="0.6"/>
<line x1="238.00" y1="379.18" x2="238.00" y2="379.78" stroke="#333" stroke-width="0.5"/>
<line x1="236.50" y1="379.18" x2="239.50" y2="379.18" stroke="#333" stroke-width="0.5"/>
<line x1="236.50" y1="379.78" x2="239.50" y2="379.78" stroke="#333" stroke-width="0.5"/>
<rect x="243.05" y="379.48" width="7.50" height="2.02" fill="#b9bcf0" stroke="#5a5a9a" stroke-width="0.6"/>
<line x1="246.80" y1="379.18" x2="246.80" y2="379.78" stroke="#333" stroke-width="0.5"/>
<line x1="245.30" y1="379.18" x2="248.30" y2="379.18" stroke="#333" stroke-width="0.5"/>
<line x1="245.30" y1="379.78" x2="248.30" y2="379.78" stroke="#333" stroke-width="0.5"/>
<text x="242.4" y="387.6" style="font-family:'Liberation Serif',serif;font-weight:bold;font-size:4.0px" text-anchor="middle" fill="#222" stroke="#222" stroke-width="0.14" textLength="4.4" lengthAdjust="spacingAndGlyphs">0d</text>
<rect x="253.35" y="332.08" width="7.50" height="49.42" fill="#afe3f3" stroke="#4a7c9c" stroke-width="0.6"/>
<line x1="257.10" y1="330.88" x2="257.10" y2="333.28" stroke="#333" stroke-width="0.5"/>
<line x1="255.60" y1="330.88" x2="258.60" y2="330.88" stroke="#333" stroke-width="0.5"/>
<line x1="255.60" y1="333.28" x2="258.60" y2="333.28" stroke="#333" stroke-width="0.5"/>
<rect x="262.15" y="348.22" width="7.50" height="33.28" fill="#b9bcf0" stroke="#5a5a9a" stroke-width="0.6"/>
<line x1="265.90" y1="347.62" x2="265.90" y2="348.82" stroke="#333" stroke-width="0.5"/>
<line x1="264.40" y1="347.62" x2="267.40" y2="347.62" stroke="#333" stroke-width="0.5"/>
<line x1="264.40" y1="348.82" x2="267.40" y2="348.82" stroke="#333" stroke-width="0.5"/>
<text x="261.5" y="387.6" style="font-family:'Liberation Serif',serif;font-weight:bold;font-size:4.0px" text-anchor="middle" fill="#222" stroke="#222" stroke-width="0.14" textLength="4.4" lengthAdjust="spacingAndGlyphs">2w</text>
<rect x="272.35" y="342.98" width="7.50" height="38.52" fill="#afe3f3" stroke="#4a7c9c" stroke-width="0.6"/>
<line x1="276.10" y1="342.48" x2="276.10" y2="343.48" stroke="#333" stroke-width="0.5"/>
<line x1="274.60" y1="342.48" x2="277.60" y2="342.48" stroke="#333" stroke-width="0.5"/>
<line x1="274.60" y1="343.48" x2="277.60" y2="343.48" stroke="#333" stroke-width="0.5"/>
<rect x="281.15" y="336.72" width="7.50" height="44.78" fill="#b9bcf0" stroke="#5a5a9a" stroke-width="0.6"/>
<line x1="284.90" y1="335.92" x2="284.90" y2="337.52" stroke="#333" stroke-width="0.5"/>
<line x1="283.40" y1="335.92" x2="286.40" y2="335.92" stroke="#333" stroke-width="0.5"/>
<line x1="283.40" y1="337.52" x2="286.40" y2="337.52" stroke="#333" stroke-width="0.5"/>
<text x="280.5" y="387.6" style="font-family:'Liberation Serif',serif;font-weight:bold;font-size:4.0px" text-anchor="middle" fill="#222" stroke="#222" stroke-width="0.14" textLength="4.4" lengthAdjust="spacingAndGlyphs">4w</text>
<rect x="291.45" y="375.45" width="7.50" height="6.05" fill="#afe3f3" stroke="#4a7c9c" stroke-width="0.6"/>
<line x1="295.20" y1="374.95" x2="295.20" y2="375.95" stroke="#333" stroke-width="0.5"/>
<line x1="293.70" y1="374.95" x2="296.70" y2="374.95" stroke="#333" stroke-width="0.5"/>
<line x1="293.70" y1="375.95" x2="296.70" y2="375.95" stroke="#333" stroke-width="0.5"/>
<rect x="300.25" y="352.46" width="7.50" height="29.04" fill="#b9bcf0" stroke="#5a5a9a" stroke-width="0.6"/>
<line x1="304.00" y1="351.96" x2="304.00" y2="352.96" stroke="#333" stroke-width="0.5"/>
<line x1="302.50" y1="351.96" x2="305.50" y2="351.96" stroke="#333" stroke-width="0.5"/>
<line x1="302.50" y1="352.96" x2="305.50" y2="352.96" stroke="#333" stroke-width="0.5"/>
<text x="299.6" y="387.6" style="font-family:'Liberation Serif',serif;font-weight:bold;font-size:4.0px" text-anchor="middle" fill="#222" stroke="#222" stroke-width="0.14" textLength="4.4" lengthAdjust="spacingAndGlyphs">8w</text>
<path d="M257.20 330.50 V325.20 H266.40 V346.00" fill="none" stroke="#777" stroke-width="0.7"/>
<ellipse cx="259.93" cy="323.43" rx="0.61" ry="0.74" fill="#333"/>
<ellipse cx="261.80" cy="323.43" rx="0.61" ry="0.74" fill="#333"/>
<ellipse cx="263.67" cy="323.43" rx="0.61" ry="0.74" fill="#333"/>
<path d="M275.60 341.00 V331.10 H284.80 V335.50" fill="none" stroke="#777" stroke-width="0.7"/>
<ellipse cx="280.20" cy="329.33" rx="0.61" ry="0.74" fill="#333"/>
<path d="M295.80 373.50 V347.50 H304.00 V351.00" fill="none" stroke="#777" stroke-width="0.7"/>
<ellipse cx="298.03" cy="345.73" rx="0.61" ry="0.74" fill="#333"/>
<ellipse cx="299.90" cy="345.73" rx="0.61" ry="0.74" fill="#333"/>
<ellipse cx="301.77" cy="345.73" rx="0.61" ry="0.74" fill="#333"/>
<rect x="287.4" y="319.1" width="8.6" height="4.6" fill="#afe3f3" stroke="#4a7c9c" stroke-width="0.6"/>
<rect x="287.4" y="323.70000000000005" width="8.6" height="4.6" fill="#b9bcf0" stroke="#5a5a9a" stroke-width="0.6"/>
<line x1="287.4" y1="323.70000000000005" x2="296.0" y2="323.70000000000005" stroke="#3a5a7a" stroke-width="0.9"/>
<text x="297.1" y="322.8" style="font-family:'Liberation Serif',serif;font-weight:bold;font-size:3.9px" text-anchor="start" fill="#222" stroke="#222" stroke-width="0.137" textLength="7.0" lengthAdjust="spacingAndGlyphs">Ctrl</text>
<text x="297.1" y="327.6" style="font-family:'Liberation Serif',serif;font-weight:bold;font-size:3.9px" text-anchor="start" fill="#222" stroke="#222" stroke-width="0.137" textLength="11.2" lengthAdjust="spacingAndGlyphs">5 MPa</text>
<text x="0" y="0" style="font-family:'Liberation Serif',serif;font-weight:bold;font-size:4.4px" text-anchor="middle" fill="#333" stroke="#333" stroke-width="0.154" transform="translate(225.7 351.5) rotate(-90)" textLength="63.1" lengthAdjust="spacingAndGlyphs">SOX9 Expression (Fold Change)</text>
<text x="313.0" y="309.6" style="font-family:'Liberation Sans',sans-serif;font-weight:bold;font-size:8.6px" text-anchor="start" fill="#222" stroke="#222" stroke-width="0.3" textLength="10.0" lengthAdjust="spacingAndGlyphs">E3</text>
<line x1="323.00" y1="320.60" x2="323.00" y2="382.30" stroke="#333" stroke-width="0.8"/>
<line x1="321.60" y1="382.30" x2="323.00" y2="382.30" stroke="#333" stroke-width="0.6"/>
<text x="321.1" y="383.558" style="font-family:'Liberation Serif',serif;font-weight:bold;font-size:3.7px" text-anchor="end" fill="#333" stroke="#333" stroke-width="0.13" textLength="1.6" lengthAdjust="spacingAndGlyphs">0</text>
<line x1="321.60" y1="368.64" x2="323.00" y2="368.64" stroke="#333" stroke-width="0.6"/>
<text x="321.1" y="369.89799999999997" style="font-family:'Liberation Serif',serif;font-weight:bold;font-size:3.7px" text-anchor="end" fill="#333" stroke="#333" stroke-width="0.13" textLength="3.2" lengthAdjust="spacingAndGlyphs">20</text>
<line x1="321.60" y1="354.98" x2="323.00" y2="354.98" stroke="#333" stroke-width="0.6"/>
<text x="321.1" y="356.238" style="font-family:'Liberation Serif',serif;font-weight:bold;font-size:3.7px" text-anchor="end" fill="#333" stroke="#333" stroke-width="0.13" textLength="3.2" lengthAdjust="spacingAndGlyphs">40</text>
<line x1="321.60" y1="341.32" x2="323.00" y2="341.32" stroke="#333" stroke-width="0.6"/>
<text x="321.1" y="342.578" style="font-family:'Liberation Serif',serif;font-weight:bold;font-size:3.7px" text-anchor="end" fill="#333" stroke="#333" stroke-width="0.13" textLength="3.2" lengthAdjust="spacingAndGlyphs">60</text>
<line x1="321.60" y1="327.66" x2="323.00" y2="327.66" stroke="#333" stroke-width="0.6"/>
<text x="321.1" y="328.918" style="font-family:'Liberation Serif',serif;font-weight:bold;font-size:3.7px" text-anchor="end" fill="#333" stroke="#333" stroke-width="0.13" textLength="3.2" lengthAdjust="spacingAndGlyphs">80</text>
<line x1="323.00" y1="382.30" x2="398.50" y2="382.30" stroke="#333" stroke-width="0.8"/>
<rect x="324.20" y="381.62" width="7.40" height="0.68" fill="#afe3f3" stroke="#4a7c9c" stroke-width="0.6"/>
<line x1="327.90" y1="381.32" x2="327.90" y2="381.92" stroke="#333" stroke-width="0.5"/>
<line x1="326.40" y1="381.32" x2="329.40" y2="381.32" stroke="#333" stroke-width="0.5"/>
<line x1="326.40" y1="381.92" x2="329.40" y2="381.92" stroke="#333" stroke-width="0.5"/>
<rect x="332.80" y="381.62" width="7.40" height="0.68" fill="#b9bcf0" stroke="#5a5a9a" stroke-width="0.6"/>
<line x1="336.50" y1="381.32" x2="336.50" y2="381.92" stroke="#333" stroke-width="0.5"/>
<line x1="335.00" y1="381.32" x2="338.00" y2="381.32" stroke="#333" stroke-width="0.5"/>
<line x1="335.00" y1="381.92" x2="338.00" y2="381.92" stroke="#333" stroke-width="0.5"/>
<text x="332.2" y="386.8" style="font-family:'Liberation Serif',serif;font-weight:bold;font-size:4.0px" text-anchor="middle" fill="#222" stroke="#222" stroke-width="0.14" textLength="4.4" lengthAdjust="spacingAndGlyphs">0d</text>
<rect x="343.70" y="331.83" width="7.40" height="50.47" fill="#afe3f3" stroke="#4a7c9c" stroke-width="0.6"/>
<line x1="347.40" y1="329.83" x2="347.40" y2="333.83" stroke="#333" stroke-width="0.5"/>
<line x1="345.90" y1="329.83" x2="348.90" y2="329.83" stroke="#333" stroke-width="0.5"/>
<line x1="345.90" y1="333.83" x2="348.90" y2="333.83" stroke="#333" stroke-width="0.5"/>
<rect x="352.30" y="349.31" width="7.40" height="32.99" fill="#b9bcf0" stroke="#5a5a9a" stroke-width="0.6"/>
<line x1="356.00" y1="348.31" x2="356.00" y2="350.31" stroke="#333" stroke-width="0.5"/>
<line x1="354.50" y1="348.31" x2="357.50" y2="348.31" stroke="#333" stroke-width="0.5"/>
<line x1="354.50" y1="350.31" x2="357.50" y2="350.31" stroke="#333" stroke-width="0.5"/>
<text x="351.7" y="386.8" style="font-family:'Liberation Serif',serif;font-weight:bold;font-size:4.0px" text-anchor="middle" fill="#222" stroke="#222" stroke-width="0.14" textLength="4.4" lengthAdjust="spacingAndGlyphs">2w</text>
<rect x="362.40" y="366.25" width="7.40" height="16.05" fill="#afe3f3" stroke="#4a7c9c" stroke-width="0.6"/>
<line x1="366.10" y1="365.85" x2="366.10" y2="366.65" stroke="#333" stroke-width="0.5"/>
<line x1="364.60" y1="365.85" x2="367.60" y2="365.85" stroke="#333" stroke-width="0.5"/>
<line x1="364.60" y1="366.65" x2="367.60" y2="366.65" stroke="#333" stroke-width="0.5"/>
<rect x="371.00" y="355.87" width="7.40" height="26.43" fill="#b9bcf0" stroke="#5a5a9a" stroke-width="0.6"/>
<line x1="374.70" y1="354.87" x2="374.70" y2="356.87" stroke="#333" stroke-width="0.5"/>
<line x1="373.20" y1="354.87" x2="376.20" y2="354.87" stroke="#333" stroke-width="0.5"/>
<line x1="373.20" y1="356.87" x2="376.20" y2="356.87" stroke="#333" stroke-width="0.5"/>
<text x="370.4" y="386.8" style="font-family:'Liberation Serif',serif;font-weight:bold;font-size:4.0px" text-anchor="middle" fill="#222" stroke="#222" stroke-width="0.14" textLength="4.4" lengthAdjust="spacingAndGlyphs">4w</text>
<rect x="381.60" y="377.86" width="7.40" height="4.44" fill="#afe3f3" stroke="#4a7c9c" stroke-width="0.6"/>
<line x1="385.30" y1="377.36" x2="385.30" y2="378.36" stroke="#333" stroke-width="0.5"/>
<line x1="383.80" y1="377.36" x2="386.80" y2="377.36" stroke="#333" stroke-width="0.5"/>
<line x1="383.80" y1="378.36" x2="386.80" y2="378.36" stroke="#333" stroke-width="0.5"/>
<rect x="390.20" y="376.56" width="7.40" height="5.74" fill="#b9bcf0" stroke="#5a5a9a" stroke-width="0.6"/>
<line x1="393.90" y1="376.06" x2="393.90" y2="377.06" stroke="#333" stroke-width="0.5"/>
<line x1="392.40" y1="376.06" x2="395.40" y2="376.06" stroke="#333" stroke-width="0.5"/>
<line x1="392.40" y1="377.06" x2="395.40" y2="377.06" stroke="#333" stroke-width="0.5"/>
<text x="389.6" y="386.8" style="font-family:'Liberation Serif',serif;font-weight:bold;font-size:4.0px" text-anchor="middle" fill="#222" stroke="#222" stroke-width="0.14" textLength="4.4" lengthAdjust="spacingAndGlyphs">8w</text>
<path d="M347.70 329.00 V323.00 H355.80 V347.00" fill="none" stroke="#777" stroke-width="0.7"/>
<ellipse cx="349.88" cy="321.23" rx="0.61" ry="0.74" fill="#333"/>
<ellipse cx="351.75" cy="321.23" rx="0.61" ry="0.74" fill="#333"/>
<ellipse cx="353.62" cy="321.23" rx="0.61" ry="0.74" fill="#333"/>
<path d="M366.30 364.00 V345.70 H374.50 V354.00" fill="none" stroke="#777" stroke-width="0.7"/>
<ellipse cx="368.53" cy="343.93" rx="0.61" ry="0.74" fill="#333"/>
<ellipse cx="370.40" cy="343.93" rx="0.61" ry="0.74" fill="#333"/>
<ellipse cx="372.27" cy="343.93" rx="0.61" ry="0.74" fill="#333"/>
<path d="M385.80 376.00 V368.50 H393.60 V375.00" fill="none" stroke="#777" stroke-width="0.7"/>
<ellipse cx="388.77" cy="366.73" rx="0.61" ry="0.74" fill="#333"/>
<ellipse cx="390.64" cy="366.73" rx="0.61" ry="0.74" fill="#333"/>
<rect x="375.5" y="319.0" width="9.1" height="4.7" fill="#afe3f3" stroke="#4a7c9c" stroke-width="0.6"/>
<rect x="375.5" y="323.7" width="9.1" height="4.7" fill="#b9bcf0" stroke="#5a5a9a" stroke-width="0.6"/>
<line x1="375.5" y1="323.7" x2="384.6" y2="323.7" stroke="#3a5a7a" stroke-width="0.9"/>
<text x="385.70000000000005" y="322.7" style="font-family:'Liberation Serif',serif;font-weight:bold;font-size:3.9px" text-anchor="start" fill="#222" stroke="#222" stroke-width="0.137" textLength="7.0" lengthAdjust="spacingAndGlyphs">Ctrl</text>
<text x="385.70000000000005" y="327.59999999999997" style="font-family:'Liberation Serif',serif;font-weight:bold;font-size:3.9px" text-anchor="start" fill="#222" stroke="#222" stroke-width="0.137" textLength="11.2" lengthAdjust="spacingAndGlyphs">5 MPa</text>
<text x="0" y="0" style="font-family:'Liberation Serif',serif;font-weight:bold;font-size:4.4px" text-anchor="middle" fill="#333" stroke="#333" stroke-width="0.154" transform="translate(315.6 351.6) rotate(-90)" textLength="65.8" lengthAdjust="spacingAndGlyphs">COL2A1 Expression (Fold Change)</text>
</svg></body></html>
